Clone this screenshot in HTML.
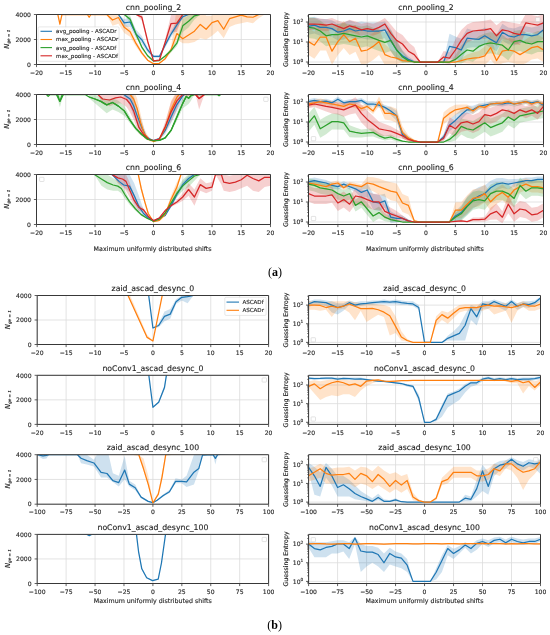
<!DOCTYPE html><html><head><meta charset='utf-8'><style>html,body{margin:0;padding:0;background:#fff;width:550px;height:635px;overflow:hidden}svg{display:block}</style></head><body>
<svg width='550' height='635' viewBox='0 0 550 635' font-family="'DejaVu Sans', 'Liberation Sans', sans-serif" fill='#262626' stroke-linejoin='round'><style>text{stroke:#262626;stroke-width:0.14px}</style>
<rect width='550' height='635' fill='#fff'/>
<defs><clipPath id='c0'><rect x='36.5' y='14.5' width='234' height='50'/></clipPath><clipPath id='c1'><rect x='308.5' y='14.5' width='235' height='50'/></clipPath><clipPath id='c2'><rect x='36.5' y='94.5' width='234' height='50'/></clipPath><clipPath id='c3'><rect x='308.5' y='94.5' width='235' height='50'/></clipPath><clipPath id='c4'><rect x='36.5' y='174.5' width='234' height='50'/></clipPath><clipPath id='c5'><rect x='308.5' y='174.5' width='235' height='50'/></clipPath><clipPath id='c6'><rect x='37.2' y='295.5' width='231.4' height='49'/></clipPath><clipPath id='c7'><rect x='308.6' y='295.5' width='231.9' height='49'/></clipPath><clipPath id='c8'><rect x='37.2' y='375.3' width='231.4' height='49.1'/></clipPath><clipPath id='c9'><rect x='308.6' y='375.3' width='231.9' height='49.1'/></clipPath><clipPath id='c10'><rect x='37.2' y='454.7' width='231.4' height='49.5'/></clipPath><clipPath id='c11'><rect x='308.6' y='454.7' width='231.9' height='49.5'/></clipPath><clipPath id='c12'><rect x='37.2' y='534.4' width='231.4' height='49.1'/></clipPath><clipPath id='c13'><rect x='308.6' y='534.4' width='231.9' height='49.1'/></clipPath></defs>
<line x1='36.5' y1='14.5' x2='36.5' y2='64.5' stroke='#dcdcdc' stroke-width='0.8'/>
<line x1='65.75' y1='14.5' x2='65.75' y2='64.5' stroke='#dcdcdc' stroke-width='0.8'/>
<line x1='95' y1='14.5' x2='95' y2='64.5' stroke='#dcdcdc' stroke-width='0.8'/>
<line x1='124.25' y1='14.5' x2='124.25' y2='64.5' stroke='#dcdcdc' stroke-width='0.8'/>
<line x1='153.5' y1='14.5' x2='153.5' y2='64.5' stroke='#dcdcdc' stroke-width='0.8'/>
<line x1='182.75' y1='14.5' x2='182.75' y2='64.5' stroke='#dcdcdc' stroke-width='0.8'/>
<line x1='212' y1='14.5' x2='212' y2='64.5' stroke='#dcdcdc' stroke-width='0.8'/>
<line x1='241.25' y1='14.5' x2='241.25' y2='64.5' stroke='#dcdcdc' stroke-width='0.8'/>
<line x1='270.5' y1='14.5' x2='270.5' y2='64.5' stroke='#dcdcdc' stroke-width='0.8'/>
<line x1='36.5' y1='64.5' x2='270.5' y2='64.5' stroke='#dcdcdc' stroke-width='0.8'/>
<line x1='36.5' y1='39.5' x2='270.5' y2='39.5' stroke='#dcdcdc' stroke-width='0.8'/>
<line x1='36.5' y1='14.5' x2='270.5' y2='14.5' stroke='#dcdcdc' stroke-width='0.8'/>
<g clip-path='url(#c0)'>
<polygon points='36.5,9.5 42.35,9.5 48.2,9.5 54.05,9.5 59.9,9.5 65.75,9.5 71.6,9.5 77.45,9.5 83.3,9.5 89.15,9.5 95,9.5 100.85,9.5 106.7,9.5 112.55,9.5 118.4,14.5 124.25,19.19 130.1,17 135.95,29.5 141.8,35.95 147.65,47.44 153.5,55.21 159.35,55.21 165.2,42.52 171.05,30.95 176.9,21.19 182.75,14.21 188.6,9.5 194.45,9.5 200.3,9.5 206.15,9.5 212,9.5 217.85,9.5 223.7,9.5 229.55,9.5 235.4,9.5 241.25,9.5 247.1,9.5 252.95,9.5 258.8,9.5 264.65,9.5 270.5,9.5 270.5,9.5 264.65,9.5 258.8,9.5 252.95,9.5 247.1,9.5 241.25,9.5 235.4,9.5 229.55,9.5 223.7,9.5 217.85,9.5 212,9.5 206.15,9.5 200.3,9.5 194.45,9.5 188.6,14.5 182.75,19.21 176.9,28.69 171.05,37.2 165.2,47.52 159.35,57.71 153.5,57.71 147.65,52.44 141.8,43.45 135.95,38.25 130.1,27 124.25,26.69 118.4,14.5 112.55,9.5 106.7,9.5 100.85,9.5 95,9.5 89.15,9.5 83.3,9.5 77.45,9.5 71.6,9.5 65.75,9.5 59.9,9.5 54.05,9.5 48.2,9.5 42.35,9.5 36.5,9.5' fill='#1f77b4' fill-opacity='0.22' stroke='none'/>
<polygon points='36.5,9.5 54.05,9.5 57.85,14.5 59.9,22.25 61.95,14.5 87.39,14.5 89.15,17.25 90.91,14.5 106.7,14.5 112.55,15.02 118.4,12.51 124.25,23.6 130.1,27.92 135.95,40.29 141.8,50.98 147.65,59.19 153.5,63.2 159.35,62.8 165.2,57.67 171.05,47.14 176.9,7 182.75,7 188.6,7 194.45,7 200.3,7 206.15,15.75 212,15.75 217.85,7 223.7,7 229.55,7 235.4,7 241.25,7 247.1,7 252.95,7 258.8,7 264.65,9.5 270.5,9.5 270.5,9.5 264.65,14.5 258.8,18.25 252.95,23.25 247.1,22 241.25,23.25 235.4,24.5 229.55,27 223.7,38.25 217.85,30.75 212,35.75 206.15,39.5 200.3,38.25 194.45,42 188.6,43.25 182.75,43.25 176.9,39.5 171.05,52.14 165.2,59.67 159.35,63.8 153.5,64.2 147.65,61.19 141.8,54.73 135.95,46.54 130.1,36.67 124.25,32.98 118.4,23.76 112.55,25.65 106.7,14.5 90.91,14.5 89.15,17.25 87.39,14.5 61.95,14.5 59.9,26 57.85,14.5 54.05,9.5 36.5,9.5' fill='#ff7f0e' fill-opacity='0.22' stroke='none'/>
<polygon points='36.5,9.5 42.35,9.5 48.2,9.5 54.05,9.5 59.9,9.5 65.75,9.5 71.6,9.5 77.45,9.5 83.3,9.5 89.15,9.5 95,9.5 100.85,9.5 106.7,9.5 112.55,9.5 118.4,9.5 124.25,14.5 130.1,15.57 135.95,31.38 141.8,45.15 147.65,54.51 153.5,60.25 159.35,59.84 165.2,54.71 171.05,48.66 176.9,40.09 182.75,19.6 188.6,15.07 194.45,12.05 200.3,9.5 206.15,9.5 212,9.5 217.85,9.5 223.7,9.5 229.55,9.5 235.4,9.5 241.25,9.5 247.1,9.5 252.95,9.5 258.8,9.5 264.65,9.5 270.5,9.5 270.5,9.5 264.65,9.5 258.8,9.5 252.95,9.5 247.1,9.5 241.25,9.5 235.4,9.5 229.55,9.5 223.7,9.5 217.85,9.5 212,9.5 206.15,9.5 200.3,14.5 194.45,19.55 188.6,27.57 182.75,32.1 176.9,46.34 171.05,52.41 165.2,57.21 159.35,61.34 153.5,61.75 147.65,57.01 141.8,48.9 135.95,36.38 130.1,23.08 124.25,14.5 118.4,9.5 112.55,9.5 106.7,9.5 100.85,9.5 95,9.5 89.15,9.5 83.3,9.5 77.45,9.5 71.6,9.5 65.75,9.5 59.9,9.5 54.05,9.5 48.2,9.5 42.35,9.5 36.5,9.5' fill='#2ca02c' fill-opacity='0.22' stroke='none'/>
<polygon points='36.5,9.5 42.35,9.5 48.2,9.5 54.05,9.5 59.9,9.5 65.75,9.5 71.6,9.5 77.45,9.5 83.3,9.5 89.15,9.5 95,9.5 100.85,9.5 106.7,9.5 112.55,9.5 118.4,9.5 124.25,9.5 130.1,9.5 135.95,9.5 141.8,13.36 147.65,38.71 153.5,60.14 159.35,59.44 165.2,39.19 171.05,14.79 176.9,14.39 182.75,9.5 188.6,9.5 194.45,9.5 200.3,9.5 206.15,9.5 212,9.5 217.85,9.5 223.7,9.5 229.55,9.5 235.4,9.5 241.25,9.5 247.1,9.5 252.95,9.5 258.8,9.5 264.65,9.5 270.5,9.5 270.5,9.5 264.65,9.5 258.8,9.5 252.95,9.5 247.1,9.5 241.25,9.5 235.4,9.5 229.55,9.5 223.7,9.5 217.85,9.5 212,9.5 206.15,9.5 200.3,9.5 194.45,9.5 188.6,9.5 182.75,14.5 176.9,31.89 171.05,32.29 165.2,45.44 159.35,60.94 153.5,61.64 147.65,43.71 141.8,20.86 135.95,14.5 130.1,9.5 124.25,9.5 118.4,9.5 112.55,9.5 106.7,9.5 100.85,9.5 95,9.5 89.15,9.5 83.3,9.5 77.45,9.5 71.6,9.5 65.75,9.5 59.9,9.5 54.05,9.5 48.2,9.5 42.35,9.5 36.5,9.5' fill='#d62728' fill-opacity='0.22' stroke='none'/>
<polyline points='36.5,9.5 42.35,9.5 48.2,9.5 54.05,9.5 59.9,9.5 65.75,9.5 71.6,9.5 77.45,9.5 83.3,9.5 89.15,9.5 95,9.5 100.85,9.5 106.7,9.5 112.55,9.5 118.4,14.5 124.25,22.94 130.1,22 135.95,33.88 141.8,39.7 147.65,49.94 153.5,56.46 159.35,56.46 165.2,45.02 171.05,34.08 176.9,24.94 182.75,16.71 188.6,14.5 194.45,9.5 200.3,9.5 206.15,9.5 212,9.5 217.85,9.5 223.7,9.5 229.55,9.5 235.4,9.5 241.25,9.5 247.1,9.5 252.95,9.5 258.8,9.5 264.65,9.5 270.5,9.5' fill='none' stroke='#1f77b4' stroke-width='1.25' stroke-linejoin='round'/>
<polyline points='36.5,9.5 54.05,9.5 57.85,14.5 59.9,24.12 61.95,14.5 87.39,14.5 89.15,17.25 90.91,14.5 106.7,14.5 112.55,20.03 118.4,17.51 124.25,27.35 130.1,31.68 135.95,43.41 141.8,52.85 147.65,60.19 153.5,63.7 159.35,63.3 165.2,58.67 171.05,49.64 176.9,33.57 182.75,38.8 188.6,35 194.45,31.18 200.3,24.44 206.15,29.26 212,22.54 217.85,20.62 223.7,29.26 229.55,18.71 235.4,16.81 241.25,15.12 247.1,16.81 252.95,17.25 258.8,14.5 264.65,9.5 270.5,9.5' fill='none' stroke='#ff7f0e' stroke-width='1.25' stroke-linejoin='round'/>
<polyline points='36.5,9.5 42.35,9.5 48.2,9.5 54.05,9.5 59.9,9.5 65.75,9.5 71.6,9.5 77.45,9.5 83.3,9.5 89.15,9.5 95,9.5 100.85,9.5 106.7,9.5 112.55,9.5 118.4,9.5 124.25,14.5 130.1,19.33 135.95,33.88 141.8,47.03 147.65,55.76 153.5,61 159.35,60.59 165.2,55.96 171.05,50.54 176.9,43.21 182.75,25.85 188.6,21.32 194.45,15.8 200.3,14.5 206.15,9.5 212,9.5 217.85,9.5 223.7,9.5 229.55,9.5 235.4,9.5 241.25,9.5 247.1,9.5 252.95,9.5 258.8,9.5 264.65,9.5 270.5,9.5' fill='none' stroke='#2ca02c' stroke-width='1.25' stroke-linejoin='round'/>
<polyline points='36.5,9.5 42.35,9.5 48.2,9.5 54.05,9.5 59.9,9.5 65.75,9.5 71.6,9.5 77.45,9.5 83.3,9.5 89.15,9.5 95,9.5 100.85,9.5 106.7,9.5 112.55,9.5 118.4,9.5 124.25,9.5 130.1,9.5 135.95,14.5 141.8,17.11 147.65,41.21 153.5,60.89 159.35,60.19 165.2,42.31 171.05,23.54 176.9,23.14 182.75,14.5 188.6,9.5 194.45,9.5 200.3,9.5 206.15,9.5 212,9.5 217.85,9.5 223.7,9.5 229.55,9.5 235.4,9.5 241.25,9.5 247.1,9.5 252.95,9.5 258.8,9.5 264.65,9.5 270.5,9.5' fill='none' stroke='#d62728' stroke-width='1.25' stroke-linejoin='round'/>
</g>
<rect x='36.5' y='14.5' width='234' height='50' fill='none' stroke='#383838' stroke-width='1.0'/>
<line x1='36.5' y1='64.5' x2='36.5' y2='67.1' stroke='#383838' stroke-width='0.8'/>
<text x='36.5' y='74.7' text-anchor='middle' font-size='6.1'>−20</text>
<line x1='65.75' y1='64.5' x2='65.75' y2='67.1' stroke='#383838' stroke-width='0.8'/>
<text x='65.75' y='74.7' text-anchor='middle' font-size='6.1'>−15</text>
<line x1='95' y1='64.5' x2='95' y2='67.1' stroke='#383838' stroke-width='0.8'/>
<text x='95' y='74.7' text-anchor='middle' font-size='6.1'>−10</text>
<line x1='124.25' y1='64.5' x2='124.25' y2='67.1' stroke='#383838' stroke-width='0.8'/>
<text x='124.25' y='74.7' text-anchor='middle' font-size='6.1'>−5</text>
<line x1='153.5' y1='64.5' x2='153.5' y2='67.1' stroke='#383838' stroke-width='0.8'/>
<text x='153.5' y='74.7' text-anchor='middle' font-size='6.1'>0</text>
<line x1='182.75' y1='64.5' x2='182.75' y2='67.1' stroke='#383838' stroke-width='0.8'/>
<text x='182.75' y='74.7' text-anchor='middle' font-size='6.1'>5</text>
<line x1='212' y1='64.5' x2='212' y2='67.1' stroke='#383838' stroke-width='0.8'/>
<text x='212' y='74.7' text-anchor='middle' font-size='6.1'>10</text>
<line x1='241.25' y1='64.5' x2='241.25' y2='67.1' stroke='#383838' stroke-width='0.8'/>
<text x='241.25' y='74.7' text-anchor='middle' font-size='6.1'>15</text>
<line x1='270.5' y1='64.5' x2='270.5' y2='67.1' stroke='#383838' stroke-width='0.8'/>
<text x='270.5' y='74.7' text-anchor='middle' font-size='6.1'>20</text>
<line x1='33.9' y1='64.5' x2='36.5' y2='64.5' stroke='#383838' stroke-width='0.8'/>
<text x='30.9' y='66.7' text-anchor='end' font-size='6.1'>0</text>
<line x1='33.9' y1='39.5' x2='36.5' y2='39.5' stroke='#383838' stroke-width='0.8'/>
<text x='30.9' y='41.7' text-anchor='end' font-size='6.1'>2000</text>
<line x1='33.9' y1='14.5' x2='36.5' y2='14.5' stroke='#383838' stroke-width='0.8'/>
<text x='30.9' y='16.7' text-anchor='end' font-size='6.1'>4000</text>
<text x='153.5' y='10.1' text-anchor='middle' font-size='7.75'>cnn_pooling_2</text>
<text transform='translate(9.2,39.2) rotate(-90)' text-anchor='middle' font-size='6.9' font-style='italic'>N<tspan dy='1.1' font-size='4.1'>ge = 1</tspan></text>
<line x1='308.5' y1='14.5' x2='308.5' y2='64.5' stroke='#dcdcdc' stroke-width='0.8'/>
<line x1='337.88' y1='14.5' x2='337.88' y2='64.5' stroke='#dcdcdc' stroke-width='0.8'/>
<line x1='367.25' y1='14.5' x2='367.25' y2='64.5' stroke='#dcdcdc' stroke-width='0.8'/>
<line x1='396.62' y1='14.5' x2='396.62' y2='64.5' stroke='#dcdcdc' stroke-width='0.8'/>
<line x1='426' y1='14.5' x2='426' y2='64.5' stroke='#dcdcdc' stroke-width='0.8'/>
<line x1='455.38' y1='14.5' x2='455.38' y2='64.5' stroke='#dcdcdc' stroke-width='0.8'/>
<line x1='484.75' y1='14.5' x2='484.75' y2='64.5' stroke='#dcdcdc' stroke-width='0.8'/>
<line x1='514.12' y1='14.5' x2='514.12' y2='64.5' stroke='#dcdcdc' stroke-width='0.8'/>
<line x1='543.5' y1='14.5' x2='543.5' y2='64.5' stroke='#dcdcdc' stroke-width='0.8'/>
<line x1='308.5' y1='62' x2='543.5' y2='62' stroke='#dcdcdc' stroke-width='0.8'/>
<line x1='308.5' y1='42' x2='543.5' y2='42' stroke='#dcdcdc' stroke-width='0.8'/>
<line x1='308.5' y1='22' x2='543.5' y2='22' stroke='#dcdcdc' stroke-width='0.8'/>
<g clip-path='url(#c1)'>
<polygon points='308.5,18 314.38,16.8 320.25,19 326.12,19 332,20.2 337.88,23.8 343.75,22.6 349.62,20.2 355.5,22.6 361.38,21.4 367.25,22.6 373.12,22.6 379,22.6 384.88,21.4 390.75,29.2 396.62,40.2 402.5,50.2 408.38,56.6 414.25,60.4 420.12,62 426,62 431.88,62 437.75,62 443.62,60.6 449.5,33.8 455.38,36.4 461.25,38.8 467.12,28.4 473,30.4 478.88,31 484.75,27.4 490.62,31 496.5,34.4 502.38,23.8 508.25,27.4 514.12,28.6 520,26.2 525.88,26.2 531.75,27.4 537.62,26.2 543.5,21.4 543.5,38.2 537.62,43 531.75,44.2 525.88,43 520,43 514.12,45.4 508.25,44.2 502.38,40.6 496.5,51.2 490.62,47.8 484.75,44.2 478.88,47.8 473,47.2 467.12,48 461.25,61.2 455.38,58.8 449.5,59 443.62,63.4 437.75,62 431.88,62 426,62 420.12,62 414.25,63.2 408.38,62.2 402.5,61.4 396.62,59.8 390.75,51.6 384.88,38.2 379,39.4 373.12,39.4 367.25,39.4 361.38,38.2 355.5,39.4 349.62,37 343.75,39.4 337.88,40.6 332,37 326.12,35.8 320.25,35.8 314.38,33.6 308.5,34.8' fill='#1f77b4' fill-opacity='0.22' stroke='none'/>
<polygon points='308.5,28.1 314.38,31.7 320.25,23.5 326.12,23.5 332,37.7 337.88,28.1 343.75,21.1 349.62,28.1 355.5,24.7 361.38,37.7 367.25,36.5 373.12,32.9 379,28.1 384.88,44.1 390.75,49.5 396.62,52.2 402.5,58.5 408.38,60 414.25,62 420.12,62 426,62 431.88,62 437.75,62 443.62,62 449.5,62 455.38,62 461.25,58.5 467.12,54.5 473,52.5 478.88,51 484.75,46.5 490.62,35.6 496.5,54.6 502.38,39.2 508.25,38 514.12,39.2 520,44.1 525.88,39.2 531.75,35.6 537.62,34.4 543.5,38 543.5,62 537.62,58.4 531.75,59.6 525.88,63.2 520,65.1 514.12,63.2 508.25,62 502.38,63.2 496.5,66.6 490.62,59.6 484.75,65.1 478.88,64.2 473,63.9 467.12,63.5 461.25,62.7 455.38,62 449.5,62 443.62,62 437.75,62 431.88,62 426,62 420.12,62 414.25,62 408.38,62.4 402.5,62.7 396.62,64.2 390.75,64.5 384.88,65.1 379,55.1 373.12,59.9 367.25,63.5 361.38,64.7 355.5,51.7 349.62,55.1 343.75,48.1 337.88,55.1 332,64.7 326.12,50.5 320.25,50.5 314.38,58.7 308.5,55.1' fill='#ff7f0e' fill-opacity='0.22' stroke='none'/>
<polygon points='308.5,16.9 314.38,17.7 320.25,20.5 326.12,25.3 332,24.1 337.88,24.1 343.75,22.9 349.62,24.1 355.5,25.3 361.38,26.5 367.25,25.3 373.12,27.7 379,29.9 384.88,31.9 390.75,29.9 396.62,41 402.5,51 408.38,58.5 414.25,62 420.12,62 426,62 431.88,62 437.75,62 443.62,62 449.5,62 455.38,55.5 461.25,45.6 467.12,39.5 473,40.7 478.88,35.9 484.75,33.5 490.62,32.3 496.5,33.5 502.38,34.7 508.25,39.5 514.12,31.1 520,29.9 525.88,32.3 531.75,33.5 537.62,31.1 543.5,31.1 543.5,52.1 537.62,52.1 531.75,54.5 525.88,53.3 520,50.9 514.12,52.1 508.25,60.5 502.38,55.7 496.5,54.5 490.62,53.3 484.75,54.5 478.88,56.9 473,61.7 467.12,60.5 461.25,63.6 455.38,63.3 449.5,62 443.62,62 437.75,62 431.88,62 426,62 420.12,62 414.25,62 408.38,62.7 402.5,63 396.62,59 390.75,50.9 384.88,52.9 379,50.9 373.12,48.7 367.25,46.3 361.38,47.5 355.5,46.3 349.62,45.1 343.75,43.9 337.88,45.1 332,45.1 326.12,46.3 320.25,41.5 314.38,38.7 308.5,37.9' fill='#2ca02c' fill-opacity='0.22' stroke='none'/>
<polygon points='308.5,18 314.38,18 320.25,18.4 326.12,19.2 332,18 337.88,20.4 343.75,22.6 349.62,19.8 355.5,21.4 361.38,23.8 367.25,22.6 373.12,23.8 379,21.4 384.88,18 390.75,24.4 396.62,31.4 402.5,35 408.38,42.2 414.25,47.1 420.12,62 426,62 431.88,62 437.75,62 443.62,51 449.5,52.2 455.38,39.5 461.25,29.9 467.12,24.4 473,22 478.88,21.4 484.75,20.8 490.62,19.6 496.5,25.3 502.38,20.8 508.25,22 514.12,22.9 520,24.1 525.88,13.8 531.75,15 537.62,16.2 543.5,13.8 543.5,31.8 537.62,34.2 531.75,33 525.88,31.8 520,45.1 514.12,43.9 508.25,40 502.38,38.8 496.5,46.3 490.62,37.6 484.75,38.8 478.88,39.4 473,40 467.12,42.4 461.25,50.9 455.38,60.5 449.5,64.2 443.62,63 437.75,62 431.88,62 426,62 420.12,62 414.25,62.1 408.38,60.2 402.5,53 396.62,49.4 390.75,42.4 384.88,30 379,33.4 373.12,35.8 367.25,34.6 361.38,35.8 355.5,33.4 349.62,31.8 343.75,34.6 337.88,32.4 332,30 326.12,31.2 320.25,30.4 314.38,30 308.5,30' fill='#d62728' fill-opacity='0.22' stroke='none'/>
<polyline points='308.5,26.4 314.38,25.2 320.25,27.4 326.12,27.4 332,28.6 337.88,32.2 343.75,31 349.62,28.6 355.5,31 361.38,29.8 367.25,31 373.12,31 379,31 384.88,29.8 390.75,40.4 396.62,50 402.5,55.8 408.38,59.4 414.25,61.8 420.12,62 426,62 431.88,62 437.75,62 443.62,62 449.5,46.4 455.38,47.6 461.25,50 467.12,38.2 473,38.8 478.88,39.4 484.75,35.8 490.62,39.4 496.5,42.8 502.38,32.2 508.25,35.8 514.12,37 520,34.6 525.88,34.6 531.75,35.8 537.62,34.6 543.5,29.8' fill='none' stroke='#1f77b4' stroke-width='1.25' stroke-linejoin='round'/>
<polyline points='308.5,41.6 314.38,45.2 320.25,37 326.12,37 332,51.2 337.88,41.6 343.75,34.6 349.62,41.6 355.5,38.2 361.38,51.2 367.25,50 373.12,46.4 379,41.6 384.88,54.6 390.75,57 396.62,58.2 402.5,60.6 408.38,61.2 414.25,62 420.12,62 426,62 431.88,62 437.75,62 443.62,62 449.5,62 455.38,62 461.25,60.6 467.12,59 473,58.2 478.88,57.6 484.75,55.8 490.62,47.6 496.5,60.6 502.38,51.2 508.25,50 514.12,51.2 520,54.6 525.88,51.2 531.75,47.6 537.62,46.4 543.5,50' fill='none' stroke='#ff7f0e' stroke-width='1.25' stroke-linejoin='round'/>
<polyline points='308.5,27.4 314.38,28.2 320.25,31 326.12,35.8 332,34.6 337.88,34.6 343.75,33.4 349.62,34.6 355.5,35.8 361.38,37 367.25,35.8 373.12,38.2 379,40.4 384.88,42.4 390.75,40.4 396.62,50 402.5,57 408.38,60.6 414.25,62 420.12,62 426,62 431.88,62 437.75,62 443.62,62 449.5,62 455.38,59.4 461.25,54.6 467.12,50 473,51.2 478.88,46.4 484.75,44 490.62,42.8 496.5,44 502.38,45.2 508.25,50 514.12,41.6 520,40.4 525.88,42.8 531.75,44 537.62,41.6 543.5,41.6' fill='none' stroke='#2ca02c' stroke-width='1.25' stroke-linejoin='round'/>
<polyline points='308.5,24 314.38,24 320.25,24.4 326.12,25.2 332,24 337.88,26.4 343.75,28.6 349.62,25.8 355.5,27.4 361.38,29.8 367.25,28.6 373.12,29.8 379,27.4 384.88,24 390.75,33.4 396.62,40.4 402.5,44 408.38,51.2 414.25,54.6 420.12,62 426,62 431.88,62 437.75,62 443.62,57 449.5,58.2 455.38,50 461.25,40.4 467.12,33.4 473,31 478.88,30.4 484.75,29.8 490.62,28.6 496.5,35.8 502.38,29.8 508.25,31 514.12,33.4 520,34.6 525.88,22.8 531.75,24 537.62,25.2 543.5,22.8' fill='none' stroke='#d62728' stroke-width='1.25' stroke-linejoin='round'/>
</g>
<rect x='308.5' y='14.5' width='235' height='50' fill='none' stroke='#383838' stroke-width='1.0'/>
<line x1='308.5' y1='64.5' x2='308.5' y2='67.1' stroke='#383838' stroke-width='0.8'/>
<text x='308.5' y='74.7' text-anchor='middle' font-size='6.1'>−20</text>
<line x1='337.88' y1='64.5' x2='337.88' y2='67.1' stroke='#383838' stroke-width='0.8'/>
<text x='337.88' y='74.7' text-anchor='middle' font-size='6.1'>−15</text>
<line x1='367.25' y1='64.5' x2='367.25' y2='67.1' stroke='#383838' stroke-width='0.8'/>
<text x='367.25' y='74.7' text-anchor='middle' font-size='6.1'>−10</text>
<line x1='396.62' y1='64.5' x2='396.62' y2='67.1' stroke='#383838' stroke-width='0.8'/>
<text x='396.62' y='74.7' text-anchor='middle' font-size='6.1'>−5</text>
<line x1='426' y1='64.5' x2='426' y2='67.1' stroke='#383838' stroke-width='0.8'/>
<text x='426' y='74.7' text-anchor='middle' font-size='6.1'>0</text>
<line x1='455.38' y1='64.5' x2='455.38' y2='67.1' stroke='#383838' stroke-width='0.8'/>
<text x='455.38' y='74.7' text-anchor='middle' font-size='6.1'>5</text>
<line x1='484.75' y1='64.5' x2='484.75' y2='67.1' stroke='#383838' stroke-width='0.8'/>
<text x='484.75' y='74.7' text-anchor='middle' font-size='6.1'>10</text>
<line x1='514.12' y1='64.5' x2='514.12' y2='67.1' stroke='#383838' stroke-width='0.8'/>
<text x='514.12' y='74.7' text-anchor='middle' font-size='6.1'>15</text>
<line x1='543.5' y1='64.5' x2='543.5' y2='67.1' stroke='#383838' stroke-width='0.8'/>
<text x='543.5' y='74.7' text-anchor='middle' font-size='6.1'>20</text>
<line x1='305.9' y1='62' x2='308.5' y2='62' stroke='#383838' stroke-width='0.8'/>
<text x='303.2' y='64.2' text-anchor='end' font-size='6.1'>10<tspan dy='-2.6' font-size='4.3'>0</tspan></text>
<line x1='305.9' y1='42' x2='308.5' y2='42' stroke='#383838' stroke-width='0.8'/>
<text x='303.2' y='44.2' text-anchor='end' font-size='6.1'>10<tspan dy='-2.6' font-size='4.3'>1</tspan></text>
<line x1='305.9' y1='22' x2='308.5' y2='22' stroke='#383838' stroke-width='0.8'/>
<text x='303.2' y='24.2' text-anchor='end' font-size='6.1'>10<tspan dy='-2.6' font-size='4.3'>2</tspan></text>
<line x1='307' y1='63.94' x2='308.5' y2='63.94' stroke='#383838' stroke-width='0.6'/>
<line x1='307' y1='62.92' x2='308.5' y2='62.92' stroke='#383838' stroke-width='0.6'/>
<line x1='307' y1='55.98' x2='308.5' y2='55.98' stroke='#383838' stroke-width='0.6'/>
<line x1='307' y1='52.46' x2='308.5' y2='52.46' stroke='#383838' stroke-width='0.6'/>
<line x1='307' y1='49.96' x2='308.5' y2='49.96' stroke='#383838' stroke-width='0.6'/>
<line x1='307' y1='48.02' x2='308.5' y2='48.02' stroke='#383838' stroke-width='0.6'/>
<line x1='307' y1='46.44' x2='308.5' y2='46.44' stroke='#383838' stroke-width='0.6'/>
<line x1='307' y1='45.1' x2='308.5' y2='45.1' stroke='#383838' stroke-width='0.6'/>
<line x1='307' y1='43.94' x2='308.5' y2='43.94' stroke='#383838' stroke-width='0.6'/>
<line x1='307' y1='42.92' x2='308.5' y2='42.92' stroke='#383838' stroke-width='0.6'/>
<line x1='307' y1='35.98' x2='308.5' y2='35.98' stroke='#383838' stroke-width='0.6'/>
<line x1='307' y1='32.46' x2='308.5' y2='32.46' stroke='#383838' stroke-width='0.6'/>
<line x1='307' y1='29.96' x2='308.5' y2='29.96' stroke='#383838' stroke-width='0.6'/>
<line x1='307' y1='28.02' x2='308.5' y2='28.02' stroke='#383838' stroke-width='0.6'/>
<line x1='307' y1='26.44' x2='308.5' y2='26.44' stroke='#383838' stroke-width='0.6'/>
<line x1='307' y1='25.1' x2='308.5' y2='25.1' stroke='#383838' stroke-width='0.6'/>
<line x1='307' y1='23.94' x2='308.5' y2='23.94' stroke='#383838' stroke-width='0.6'/>
<line x1='307' y1='22.92' x2='308.5' y2='22.92' stroke='#383838' stroke-width='0.6'/>
<line x1='307' y1='15.98' x2='308.5' y2='15.98' stroke='#383838' stroke-width='0.6'/>
<text x='426' y='10.1' text-anchor='middle' font-size='7.75'>cnn_pooling_2</text>
<text transform='translate(287.9,39.5) rotate(-90)' text-anchor='middle' font-size='6.25'>Guessing Entropy</text>
<line x1='36.5' y1='94.5' x2='36.5' y2='144.5' stroke='#dcdcdc' stroke-width='0.8'/>
<line x1='65.75' y1='94.5' x2='65.75' y2='144.5' stroke='#dcdcdc' stroke-width='0.8'/>
<line x1='95' y1='94.5' x2='95' y2='144.5' stroke='#dcdcdc' stroke-width='0.8'/>
<line x1='124.25' y1='94.5' x2='124.25' y2='144.5' stroke='#dcdcdc' stroke-width='0.8'/>
<line x1='153.5' y1='94.5' x2='153.5' y2='144.5' stroke='#dcdcdc' stroke-width='0.8'/>
<line x1='182.75' y1='94.5' x2='182.75' y2='144.5' stroke='#dcdcdc' stroke-width='0.8'/>
<line x1='212' y1='94.5' x2='212' y2='144.5' stroke='#dcdcdc' stroke-width='0.8'/>
<line x1='241.25' y1='94.5' x2='241.25' y2='144.5' stroke='#dcdcdc' stroke-width='0.8'/>
<line x1='270.5' y1='94.5' x2='270.5' y2='144.5' stroke='#dcdcdc' stroke-width='0.8'/>
<line x1='36.5' y1='144.5' x2='270.5' y2='144.5' stroke='#dcdcdc' stroke-width='0.8'/>
<line x1='36.5' y1='119.5' x2='270.5' y2='119.5' stroke='#dcdcdc' stroke-width='0.8'/>
<line x1='36.5' y1='94.5' x2='270.5' y2='94.5' stroke='#dcdcdc' stroke-width='0.8'/>
<g clip-path='url(#c2)'>
<polygon points='36.5,89.5 123.67,89.5 130.1,91.5 133.61,95.75 137.12,106.88 141.8,121.19 146.19,134.5 151.16,138.75 153.5,139.75 159.35,137.59 165.2,126.71 171.05,110.66 176.9,98.35 182.75,92.22 184.51,89.5 270.5,89.5 270.5,89.5 184.51,94.5 182.75,99.72 176.9,110.85 171.05,123.16 165.2,134.21 159.35,139.59 153.5,141.25 151.16,140.75 146.19,139.5 141.8,133.69 137.12,124.38 133.61,115.75 130.1,106.5 123.67,94.5 36.5,89.5' fill='#1f77b4' fill-opacity='0.22' stroke='none'/>
<polygon points='36.5,89.5 130.1,89.5 133.61,90.25 137.12,98.5 140.63,114 144.14,128.38 148.82,137.38 153.5,140.8 159.35,138.09 165.2,124.25 171.05,100.78 176.9,90.96 179.24,89.5 270.5,89.5 270.5,89.5 179.24,94.5 176.9,103.46 171.05,118.28 165.2,131.75 159.35,140.09 153.5,142.3 148.82,141.12 144.14,138.38 140.63,131.5 137.12,118.5 133.61,107.75 130.1,94.5 36.5,89.5' fill='#ff7f0e' fill-opacity='0.22' stroke='none'/>
<polygon points='36.5,89.5 97.93,89.5 102.61,94 109.62,93.75 115.48,91.62 120.74,90.75 126.59,92 130.1,95 133.61,102.12 138.88,121.19 143.56,132 148.82,138.5 153.5,140 159.35,138.34 165.2,121.78 171.05,101.99 176.9,92.15 182.75,89.5 195.62,94.5 199.13,98.5 204.4,94.5 270.5,89.5 270.5,89.5 204.4,94.5 199.13,98.5 195.62,94.5 182.75,94.5 176.9,109.65 171.05,121.99 165.2,131.78 159.35,139.84 153.5,141 148.82,140 143.56,137 138.88,133.69 133.61,119.62 130.1,112.5 126.59,107 120.74,103.25 115.48,104.12 109.62,106.25 102.61,104 97.93,94.5 36.5,89.5' fill='#d62728' fill-opacity='0.22' stroke='none'/>
<polygon points='56.39,89.5 59.9,89.5 63.41,89.5 63.41,94.5 59.9,107.25 56.39,94.5' fill='#2ca02c' fill-opacity='0.22' stroke='none'/>
<polygon points='89.15,89.5 95,94.5 100.85,97 106.7,99.5 112.55,98.25 118.4,100.75 124.25,105.75 130.1,117 135.95,126.38 141.8,133.25 147.65,138.75 153.5,140.38 159.35,139.88 165.2,137 171.05,128.88 176.9,113.25 182.75,98.25 186.26,94.5 188.6,89.5 190.94,89.5 194.45,89.5 194.45,94.5 190.94,100.75 188.6,103.88 186.26,105.75 182.75,108.25 176.9,120.75 171.05,132 165.2,138.5 159.35,140.75 153.5,141 147.65,139.75 141.8,135.75 135.95,130.75 130.1,123.25 124.25,115.75 118.4,112 112.55,109.5 106.7,113.25 100.85,108.25 95,103.25 89.15,98.25' fill='#2ca02c' fill-opacity='0.22' stroke='none'/>
<polygon points='195.62,89.5 199.13,89.5 204.4,89.5 204.4,94.5 199.13,109.5 195.62,94.5' fill='#d62728' fill-opacity='0.22' stroke='none'/>
<polyline points='36.5,89.5 123.67,94.5 130.1,99 133.61,105.75 137.12,115.62 141.8,127.44 146.19,137 151.16,139.75 153.5,140.5 159.35,138.59 165.2,130.46 171.05,116.91 176.9,104.6 182.75,95.97 184.51,94.5 270.5,89.5' fill='none' stroke='#1f77b4' stroke-width='1.25' stroke-linejoin='round'/>
<polyline points='36.5,89.5 130.1,94.5 133.61,99 137.12,108.5 140.63,122.75 144.14,133.38 148.82,139.25 153.5,141.55 159.35,139.09 165.2,128 171.05,109.53 176.9,97.21 179.24,94.5 270.5,89.5' fill='none' stroke='#ff7f0e' stroke-width='1.25' stroke-linejoin='round'/>
<polyline points='36.5,89.5 46.44,94.5 48.2,96.38 49.96,94.5 57.56,94.5 59.9,101.38 62.24,94.5 85.06,94.5 89.15,97 95,99 100.85,101.38 106.7,104.88 112.55,102.5 118.4,106.12 124.25,110.88 130.1,120.38 135.95,128.62 141.8,134.5 147.65,139.25 153.5,140.75 159.35,140.31 165.2,137.85 171.05,130.46 176.9,116.91 182.75,103.36 186.26,96.38 188.6,98.25 190.94,95.75 194.45,94.5 217.26,94.5 219.02,95.75 220.78,94.5 270.5,89.5' fill='none' stroke='#2ca02c' stroke-width='1.25' stroke-linejoin='round'/>
<polyline points='36.5,89.5 97.93,94.5 102.61,99 109.62,100 115.48,97.88 120.74,97 126.59,99.5 130.1,103.75 133.61,110.88 138.88,127.44 143.56,134.5 148.82,139.25 153.5,140.5 159.35,139.09 165.2,126.78 171.05,111.99 176.9,100.9 182.75,94.5 195.62,94.5 199.13,98.5 204.4,94.5 270.5,89.5' fill='none' stroke='#d62728' stroke-width='1.25' stroke-linejoin='round'/>
<polyline points='56.39,94.5 59.9,101.38 63.41,94.5' fill='none' stroke='#2ca02c' stroke-width='1.25' stroke-linejoin='round'/>
<polyline points='89.15,97 95,99 100.85,101.38 106.7,104.88 112.55,102.5 118.4,106.12 124.25,110.88 130.1,120.38 135.95,128.62 141.8,134.5 147.65,139.25 153.5,140.75 159.35,140.31 165.2,137.85 171.05,130.46 176.9,116.91 182.75,103.36 186.26,96.38 188.6,98.25 190.94,95.75 194.45,94.5' fill='none' stroke='#2ca02c' stroke-width='1.25' stroke-linejoin='round'/>
<polyline points='195.62,94.5 199.13,98.5 204.4,94.5' fill='none' stroke='#d62728' stroke-width='1.25' stroke-linejoin='round'/>
</g>
<rect x='36.5' y='94.5' width='234' height='50' fill='none' stroke='#383838' stroke-width='1.0'/>
<line x1='36.5' y1='144.5' x2='36.5' y2='147.1' stroke='#383838' stroke-width='0.8'/>
<text x='36.5' y='154.7' text-anchor='middle' font-size='6.1'>−20</text>
<line x1='65.75' y1='144.5' x2='65.75' y2='147.1' stroke='#383838' stroke-width='0.8'/>
<text x='65.75' y='154.7' text-anchor='middle' font-size='6.1'>−15</text>
<line x1='95' y1='144.5' x2='95' y2='147.1' stroke='#383838' stroke-width='0.8'/>
<text x='95' y='154.7' text-anchor='middle' font-size='6.1'>−10</text>
<line x1='124.25' y1='144.5' x2='124.25' y2='147.1' stroke='#383838' stroke-width='0.8'/>
<text x='124.25' y='154.7' text-anchor='middle' font-size='6.1'>−5</text>
<line x1='153.5' y1='144.5' x2='153.5' y2='147.1' stroke='#383838' stroke-width='0.8'/>
<text x='153.5' y='154.7' text-anchor='middle' font-size='6.1'>0</text>
<line x1='182.75' y1='144.5' x2='182.75' y2='147.1' stroke='#383838' stroke-width='0.8'/>
<text x='182.75' y='154.7' text-anchor='middle' font-size='6.1'>5</text>
<line x1='212' y1='144.5' x2='212' y2='147.1' stroke='#383838' stroke-width='0.8'/>
<text x='212' y='154.7' text-anchor='middle' font-size='6.1'>10</text>
<line x1='241.25' y1='144.5' x2='241.25' y2='147.1' stroke='#383838' stroke-width='0.8'/>
<text x='241.25' y='154.7' text-anchor='middle' font-size='6.1'>15</text>
<line x1='270.5' y1='144.5' x2='270.5' y2='147.1' stroke='#383838' stroke-width='0.8'/>
<text x='270.5' y='154.7' text-anchor='middle' font-size='6.1'>20</text>
<line x1='33.9' y1='144.5' x2='36.5' y2='144.5' stroke='#383838' stroke-width='0.8'/>
<text x='30.9' y='146.7' text-anchor='end' font-size='6.1'>0</text>
<line x1='33.9' y1='119.5' x2='36.5' y2='119.5' stroke='#383838' stroke-width='0.8'/>
<text x='30.9' y='121.7' text-anchor='end' font-size='6.1'>2000</text>
<line x1='33.9' y1='94.5' x2='36.5' y2='94.5' stroke='#383838' stroke-width='0.8'/>
<text x='30.9' y='96.7' text-anchor='end' font-size='6.1'>4000</text>
<text x='153.5' y='90.1' text-anchor='middle' font-size='7.75'>cnn_pooling_4</text>
<text transform='translate(9.2,119.2) rotate(-90)' text-anchor='middle' font-size='6.9' font-style='italic'>N<tspan dy='1.1' font-size='4.1'>ge = 1</tspan></text>
<line x1='308.5' y1='94.5' x2='308.5' y2='144.5' stroke='#dcdcdc' stroke-width='0.8'/>
<line x1='337.88' y1='94.5' x2='337.88' y2='144.5' stroke='#dcdcdc' stroke-width='0.8'/>
<line x1='367.25' y1='94.5' x2='367.25' y2='144.5' stroke='#dcdcdc' stroke-width='0.8'/>
<line x1='396.62' y1='94.5' x2='396.62' y2='144.5' stroke='#dcdcdc' stroke-width='0.8'/>
<line x1='426' y1='94.5' x2='426' y2='144.5' stroke='#dcdcdc' stroke-width='0.8'/>
<line x1='455.38' y1='94.5' x2='455.38' y2='144.5' stroke='#dcdcdc' stroke-width='0.8'/>
<line x1='484.75' y1='94.5' x2='484.75' y2='144.5' stroke='#dcdcdc' stroke-width='0.8'/>
<line x1='514.12' y1='94.5' x2='514.12' y2='144.5' stroke='#dcdcdc' stroke-width='0.8'/>
<line x1='543.5' y1='94.5' x2='543.5' y2='144.5' stroke='#dcdcdc' stroke-width='0.8'/>
<line x1='308.5' y1='142' x2='543.5' y2='142' stroke='#dcdcdc' stroke-width='0.8'/>
<line x1='308.5' y1='122' x2='543.5' y2='122' stroke='#dcdcdc' stroke-width='0.8'/>
<line x1='308.5' y1='102' x2='543.5' y2='102' stroke='#dcdcdc' stroke-width='0.8'/>
<g clip-path='url(#c3)'>
<polygon points='308.5,99.2 314.38,98 320.25,99.2 326.12,98.8 332,100.4 337.88,96.8 343.75,100.4 349.62,99.2 355.5,99.2 361.38,98 367.25,101.6 373.12,101.6 379,102.8 384.88,105 390.75,107 396.62,110.8 402.5,130.6 408.38,136.2 414.25,140.4 420.12,142 426,142 431.88,142 437.75,142 443.62,134 449.5,119.2 455.38,114.4 461.25,109.6 467.12,105.8 473,105.8 478.88,103.4 484.75,102.8 490.62,101.6 496.5,101 502.38,101.6 508.25,100.4 514.12,101.6 520,100.4 525.88,99.2 531.75,100.4 537.62,99.2 543.5,102.8 543.5,107.6 537.62,104 531.75,105.2 525.88,104 520,105.2 514.12,106.4 508.25,105.2 502.38,106.4 496.5,105.8 490.62,106.4 484.75,107.6 478.88,109.4 473,113.8 467.12,113.8 461.25,119.6 455.38,126.4 449.5,131.2 443.62,140 437.75,142 431.88,142 426,142 420.12,142 414.25,142 408.38,140.2 402.5,138.6 396.62,120.8 390.75,115 384.88,109.8 379,107.6 373.12,106.4 367.25,106.4 361.38,102.8 355.5,104 349.62,104 343.75,105.2 337.88,101.6 332,105.2 326.12,103.6 320.25,104 314.38,102.8 308.5,104' fill='#1f77b4' fill-opacity='0.22' stroke='none'/>
<polygon points='308.5,101 314.38,99.8 320.25,98.6 326.12,99.8 332,101 337.88,102.2 343.75,103.4 349.62,101 355.5,102.2 361.38,105.6 367.25,103.4 373.12,108 379,96.6 384.88,107.4 390.75,106.4 396.62,108.8 402.5,126.4 408.38,135.2 414.25,139.6 420.12,142 426,142 431.88,142 437.75,142 443.62,112.2 449.5,107.4 455.38,104.8 461.25,104.6 467.12,104.4 473,108 478.88,103.4 484.75,105 490.62,101.6 496.5,101 502.38,100.4 508.25,99.2 514.12,101.6 520,100.4 525.88,99.2 531.75,101.6 537.62,99.6 543.5,101.6 543.5,106.4 537.62,104.4 531.75,106.4 525.88,104 520,105.2 514.12,106.4 508.25,104 502.38,105.2 496.5,105.8 490.62,106.4 484.75,109.8 478.88,109.4 473,114 467.12,110.4 461.25,112.6 455.38,114.8 449.5,119.4 443.62,124.2 437.75,142 431.88,142 426,142 420.12,142 414.25,141.6 408.38,141.2 402.5,138.4 396.62,122.8 390.75,120.4 384.88,119.4 379,106.6 373.12,114 367.25,109.4 361.38,111.6 355.5,108.2 349.62,107 343.75,109.4 337.88,108.2 332,107 326.12,105.8 320.25,104.6 314.38,105.8 308.5,107' fill='#ff7f0e' fill-opacity='0.22' stroke='none'/>
<polygon points='308.5,113.8 314.38,106.8 320.25,119.8 326.12,116.2 332,113.6 337.88,113.6 343.75,115.8 349.62,125.2 355.5,127.4 361.38,129.4 367.25,128.8 373.12,128.4 379,132.8 384.88,135.8 390.75,134.6 396.62,137.4 402.5,140.4 408.38,142 414.25,142 420.12,142 426,142 431.88,142 437.75,142 443.62,142 449.5,136.8 455.38,128.6 461.25,118.4 467.12,119.8 473,121 478.88,117.4 484.75,113.8 490.62,118.6 496.5,116.2 502.38,113.8 508.25,109 514.12,112.4 520,108.8 525.88,107.6 531.75,106.4 537.62,105.2 543.5,104 543.5,118 537.62,119.2 531.75,120.4 525.88,121.6 520,122.8 514.12,128.4 508.25,125 502.38,131.8 496.5,134.2 490.62,136.6 484.75,131.8 478.88,135.4 473,139 467.12,137.8 461.25,134.4 455.38,140.6 449.5,142 443.62,142 437.75,142 431.88,142 426,142 420.12,142 414.25,142 408.38,142 402.5,142 396.62,141.4 390.75,139.4 384.88,140.6 379,138.8 373.12,136.4 367.25,136.8 361.38,137.4 355.5,137.4 349.62,137.2 343.75,129.8 337.88,129.6 332,129.6 326.12,134.2 320.25,137.8 314.38,124.8 308.5,131.8' fill='#2ca02c' fill-opacity='0.22' stroke='none'/>
<polygon points='308.5,102.2 314.38,101 320.25,101.2 326.12,101.4 332,101.4 337.88,102.6 343.75,102.8 349.62,100.4 355.5,97.2 361.38,104.4 367.25,110.4 373.12,116 379,121.8 384.88,124 390.75,126.2 396.62,129.4 402.5,132.8 408.38,137.4 414.25,140.4 420.12,142 426,142 431.88,142 437.75,142 443.62,135.2 449.5,117.2 455.38,120.8 461.25,113.8 467.12,112.6 473,115 478.88,112.6 484.75,106.6 490.62,107.8 496.5,105.4 502.38,102.8 508.25,104 514.12,106.4 520,103.8 525.88,106.2 531.75,103.8 537.62,107.4 543.5,100.4 543.5,112.4 537.62,119.4 531.75,115.8 525.88,118.2 520,115.8 514.12,120.4 508.25,118 502.38,116.8 496.5,121.4 490.62,123.8 484.75,122.6 478.88,130.6 473,133 467.12,130.6 461.25,131.8 455.38,136.8 449.5,133.2 443.62,141.2 437.75,142 431.88,142 426,142 420.12,142 414.25,142 408.38,141.4 402.5,138.8 396.62,137.4 390.75,136.2 384.88,136 379,135.8 373.12,132 367.25,128.4 361.38,122.4 355.5,113.2 349.62,114.4 343.75,116.8 337.88,114.6 332,113.4 326.12,111.4 320.25,109.2 314.38,107 308.5,108.2' fill='#d62728' fill-opacity='0.22' stroke='none'/>
<polyline points='308.5,101.6 314.38,100.4 320.25,101.6 326.12,101.2 332,102.8 337.88,99.2 343.75,102.8 349.62,101.6 355.5,101.6 361.38,100.4 367.25,104 373.12,104 379,105.2 384.88,107.4 390.75,111 396.62,115.8 402.5,134.6 408.38,138.2 414.25,141.2 420.12,142 426,142 431.88,142 437.75,142 443.62,137 449.5,125.2 455.38,120.4 461.25,114.6 467.12,109.8 473,109.8 478.88,106.4 484.75,105.2 490.62,104 496.5,103.4 502.38,104 508.25,102.8 514.12,104 520,102.8 525.88,101.6 531.75,102.8 537.62,101.6 543.5,105.2' fill='none' stroke='#1f77b4' stroke-width='1.25' stroke-linejoin='round'/>
<polyline points='308.5,104 314.38,102.8 320.25,101.6 326.12,102.8 332,104 337.88,105.2 343.75,106.4 349.62,104 355.5,105.2 361.38,108.6 367.25,106.4 373.12,111 379,101.6 384.88,113.4 390.75,113.4 396.62,115.8 402.5,132.4 408.38,138.2 414.25,140.6 420.12,142 426,142 431.88,142 437.75,142 443.62,118.2 449.5,113.4 455.38,109.8 461.25,108.6 467.12,107.4 473,111 478.88,106.4 484.75,107.4 490.62,104 496.5,103.4 502.38,102.8 508.25,101.6 514.12,104 520,102.8 525.88,101.6 531.75,104 537.62,102 543.5,104' fill='none' stroke='#ff7f0e' stroke-width='1.25' stroke-linejoin='round'/>
<polyline points='308.5,122.8 314.38,115.8 320.25,128.8 326.12,125.2 332,121.6 337.88,121.6 343.75,122.8 349.62,131.2 355.5,132.4 361.38,133.4 367.25,132.8 373.12,132.4 379,135.8 384.88,138.2 390.75,137 396.62,139.4 402.5,141.2 408.38,142 414.25,142 420.12,142 426,142 431.88,142 437.75,142 443.62,142 449.5,139.4 455.38,134.6 461.25,126.4 467.12,128.8 473,130 478.88,126.4 484.75,122.8 490.62,127.6 496.5,125.2 502.38,122.8 508.25,117 514.12,120.4 520,115.8 525.88,114.6 531.75,113.4 537.62,112.2 543.5,111' fill='none' stroke='#2ca02c' stroke-width='1.25' stroke-linejoin='round'/>
<polyline points='308.5,105.2 314.38,104 320.25,105.2 326.12,106.4 332,107.4 337.88,108.6 343.75,109.8 349.62,107.4 355.5,105.2 361.38,113.4 367.25,119.4 373.12,124 379,128.8 384.88,130 390.75,131.2 396.62,133.4 402.5,135.8 408.38,139.4 414.25,141.2 420.12,142 426,142 431.88,142 437.75,142 443.62,138.2 449.5,125.2 455.38,128.8 461.25,122.8 467.12,121.6 473,124 478.88,121.6 484.75,114.6 490.62,115.8 496.5,113.4 502.38,109.8 508.25,111 514.12,113.4 520,109.8 525.88,112.2 531.75,109.8 537.62,113.4 543.5,106.4' fill='none' stroke='#d62728' stroke-width='1.25' stroke-linejoin='round'/>
</g>
<rect x='308.5' y='94.5' width='235' height='50' fill='none' stroke='#383838' stroke-width='1.0'/>
<line x1='308.5' y1='144.5' x2='308.5' y2='147.1' stroke='#383838' stroke-width='0.8'/>
<text x='308.5' y='154.7' text-anchor='middle' font-size='6.1'>−20</text>
<line x1='337.88' y1='144.5' x2='337.88' y2='147.1' stroke='#383838' stroke-width='0.8'/>
<text x='337.88' y='154.7' text-anchor='middle' font-size='6.1'>−15</text>
<line x1='367.25' y1='144.5' x2='367.25' y2='147.1' stroke='#383838' stroke-width='0.8'/>
<text x='367.25' y='154.7' text-anchor='middle' font-size='6.1'>−10</text>
<line x1='396.62' y1='144.5' x2='396.62' y2='147.1' stroke='#383838' stroke-width='0.8'/>
<text x='396.62' y='154.7' text-anchor='middle' font-size='6.1'>−5</text>
<line x1='426' y1='144.5' x2='426' y2='147.1' stroke='#383838' stroke-width='0.8'/>
<text x='426' y='154.7' text-anchor='middle' font-size='6.1'>0</text>
<line x1='455.38' y1='144.5' x2='455.38' y2='147.1' stroke='#383838' stroke-width='0.8'/>
<text x='455.38' y='154.7' text-anchor='middle' font-size='6.1'>5</text>
<line x1='484.75' y1='144.5' x2='484.75' y2='147.1' stroke='#383838' stroke-width='0.8'/>
<text x='484.75' y='154.7' text-anchor='middle' font-size='6.1'>10</text>
<line x1='514.12' y1='144.5' x2='514.12' y2='147.1' stroke='#383838' stroke-width='0.8'/>
<text x='514.12' y='154.7' text-anchor='middle' font-size='6.1'>15</text>
<line x1='543.5' y1='144.5' x2='543.5' y2='147.1' stroke='#383838' stroke-width='0.8'/>
<text x='543.5' y='154.7' text-anchor='middle' font-size='6.1'>20</text>
<line x1='305.9' y1='142' x2='308.5' y2='142' stroke='#383838' stroke-width='0.8'/>
<text x='303.2' y='144.2' text-anchor='end' font-size='6.1'>10<tspan dy='-2.6' font-size='4.3'>0</tspan></text>
<line x1='305.9' y1='122' x2='308.5' y2='122' stroke='#383838' stroke-width='0.8'/>
<text x='303.2' y='124.2' text-anchor='end' font-size='6.1'>10<tspan dy='-2.6' font-size='4.3'>1</tspan></text>
<line x1='305.9' y1='102' x2='308.5' y2='102' stroke='#383838' stroke-width='0.8'/>
<text x='303.2' y='104.2' text-anchor='end' font-size='6.1'>10<tspan dy='-2.6' font-size='4.3'>2</tspan></text>
<line x1='307' y1='143.94' x2='308.5' y2='143.94' stroke='#383838' stroke-width='0.6'/>
<line x1='307' y1='142.92' x2='308.5' y2='142.92' stroke='#383838' stroke-width='0.6'/>
<line x1='307' y1='135.98' x2='308.5' y2='135.98' stroke='#383838' stroke-width='0.6'/>
<line x1='307' y1='132.46' x2='308.5' y2='132.46' stroke='#383838' stroke-width='0.6'/>
<line x1='307' y1='129.96' x2='308.5' y2='129.96' stroke='#383838' stroke-width='0.6'/>
<line x1='307' y1='128.02' x2='308.5' y2='128.02' stroke='#383838' stroke-width='0.6'/>
<line x1='307' y1='126.44' x2='308.5' y2='126.44' stroke='#383838' stroke-width='0.6'/>
<line x1='307' y1='125.1' x2='308.5' y2='125.1' stroke='#383838' stroke-width='0.6'/>
<line x1='307' y1='123.94' x2='308.5' y2='123.94' stroke='#383838' stroke-width='0.6'/>
<line x1='307' y1='122.92' x2='308.5' y2='122.92' stroke='#383838' stroke-width='0.6'/>
<line x1='307' y1='115.98' x2='308.5' y2='115.98' stroke='#383838' stroke-width='0.6'/>
<line x1='307' y1='112.46' x2='308.5' y2='112.46' stroke='#383838' stroke-width='0.6'/>
<line x1='307' y1='109.96' x2='308.5' y2='109.96' stroke='#383838' stroke-width='0.6'/>
<line x1='307' y1='108.02' x2='308.5' y2='108.02' stroke='#383838' stroke-width='0.6'/>
<line x1='307' y1='106.44' x2='308.5' y2='106.44' stroke='#383838' stroke-width='0.6'/>
<line x1='307' y1='105.1' x2='308.5' y2='105.1' stroke='#383838' stroke-width='0.6'/>
<line x1='307' y1='103.94' x2='308.5' y2='103.94' stroke='#383838' stroke-width='0.6'/>
<line x1='307' y1='102.92' x2='308.5' y2='102.92' stroke='#383838' stroke-width='0.6'/>
<line x1='307' y1='95.98' x2='308.5' y2='95.98' stroke='#383838' stroke-width='0.6'/>
<text x='426' y='90.1' text-anchor='middle' font-size='7.75'>cnn_pooling_4</text>
<text transform='translate(287.9,119.5) rotate(-90)' text-anchor='middle' font-size='6.25'>Guessing Entropy</text>
<line x1='36.5' y1='174.5' x2='36.5' y2='224.5' stroke='#dcdcdc' stroke-width='0.8'/>
<line x1='65.75' y1='174.5' x2='65.75' y2='224.5' stroke='#dcdcdc' stroke-width='0.8'/>
<line x1='95' y1='174.5' x2='95' y2='224.5' stroke='#dcdcdc' stroke-width='0.8'/>
<line x1='124.25' y1='174.5' x2='124.25' y2='224.5' stroke='#dcdcdc' stroke-width='0.8'/>
<line x1='153.5' y1='174.5' x2='153.5' y2='224.5' stroke='#dcdcdc' stroke-width='0.8'/>
<line x1='182.75' y1='174.5' x2='182.75' y2='224.5' stroke='#dcdcdc' stroke-width='0.8'/>
<line x1='212' y1='174.5' x2='212' y2='224.5' stroke='#dcdcdc' stroke-width='0.8'/>
<line x1='241.25' y1='174.5' x2='241.25' y2='224.5' stroke='#dcdcdc' stroke-width='0.8'/>
<line x1='270.5' y1='174.5' x2='270.5' y2='224.5' stroke='#dcdcdc' stroke-width='0.8'/>
<line x1='36.5' y1='224.5' x2='270.5' y2='224.5' stroke='#dcdcdc' stroke-width='0.8'/>
<line x1='36.5' y1='199.5' x2='270.5' y2='199.5' stroke='#dcdcdc' stroke-width='0.8'/>
<line x1='36.5' y1='174.5' x2='270.5' y2='174.5' stroke='#dcdcdc' stroke-width='0.8'/>
<g clip-path='url(#c4)'>
<polygon points='36.5,169.5 111.97,169.5 118.98,169.5 123.67,169.5 129.51,174.5 134.19,183.25 138.88,195.75 143.56,209.5 148.82,217 153.5,220.75 159.35,217.38 165.2,214.5 171.05,203.25 176.9,192 182.75,181.38 188.6,175.75 194.45,174.5 270.5,169.5 270.5,169.5 194.45,174.5 188.6,180.75 182.75,187.62 176.9,197 171.05,207.62 165.2,216.38 159.35,218.5 153.5,221.62 148.82,219.25 143.56,215.75 138.88,210.75 134.19,203.25 129.51,192 123.67,187 118.98,183.25 111.97,174.5 36.5,169.5' fill='#1f77b4' fill-opacity='0.22' stroke='none'/>
<polygon points='36.5,169.5 138.29,174.5 141.21,185.38 144.73,199.12 148.24,212 153.5,221.25 159.35,219.68 165.2,212.38 171.05,195.75 176.9,182.12 180.99,174.5 270.5,169.5 270.5,169.5 180.99,174.5 176.9,192.12 171.05,203.25 165.2,216.12 159.35,221.18 153.5,222.25 148.24,215 144.73,204.12 141.21,191.62 138.29,174.5 36.5,169.5' fill='#ff7f0e' fill-opacity='0.22' stroke='none'/>
<polygon points='36.5,169.5 94.41,169.5 101.43,169.5 107.28,174.5 113.14,178.25 117.82,180.75 121.33,184.5 124.83,190.75 129.51,199.5 135.37,207 141.21,213.5 147.06,217.5 153.5,220.75 159.35,218.62 165.2,212 171.05,200.75 176.9,189.5 182.75,179.5 188.6,174.5 194.45,169.5 200.3,169.5 270.5,169.5 270.5,169.5 200.3,174.5 194.45,180.75 188.6,187 182.75,190.75 176.9,197 171.05,205.75 165.2,214.25 159.35,219.62 153.5,221.62 147.06,218.88 141.21,215.75 135.37,210.75 129.51,204.5 124.83,198.25 121.33,193.25 117.82,190.75 113.14,190.75 107.28,189.5 101.43,185.75 94.41,174.5 36.5,169.5' fill='#2ca02c' fill-opacity='0.22' stroke='none'/>
<polygon points='36.5,169.5 111.97,169.5 117.82,169.5 122.5,169.5 126,174.5 129.51,182 134.19,194.5 138.88,204.5 143.56,208.25 148.82,216 153.5,220.12 159.35,217.5 165.2,209.5 171.05,203.88 176.9,200.12 182.75,193.25 188.6,183.25 194.45,189.5 200.3,178.25 206.15,183.25 212,182 215.51,174.5 221.36,169.5 223.7,174.5 229.55,175.75 235.4,174.5 241.25,169.5 247.1,169.5 252.95,169.5 258.8,169.5 264.65,169.5 270.5,169.5 270.5,185.75 264.65,187 258.8,192 252.95,190.75 247.1,185.75 241.25,188.25 235.4,190.75 229.55,192 223.7,190.75 221.36,184.5 215.51,174.5 212,190.75 206.15,193.25 200.3,190.75 194.45,205.75 188.6,195.75 182.75,200.75 176.9,203.88 171.05,207 165.2,212 159.35,218.5 153.5,221 148.82,218 143.56,212 138.88,210.75 134.19,205.75 129.51,197 126,190.75 122.5,187 117.82,183.25 111.97,174.5 36.5,169.5' fill='#d62728' fill-opacity='0.22' stroke='none'/>
<polyline points='36.5,169.5 111.97,174.5 118.98,181.38 123.67,185 129.51,186.12 134.19,195.62 138.88,206.38 143.56,213.5 148.82,218.19 153.5,221.25 159.35,217.96 165.2,215.5 171.05,205.62 176.9,194.5 182.75,184.62 188.6,178.5 194.45,174.5 270.5,169.5' fill='none' stroke='#1f77b4' stroke-width='1.25' stroke-linejoin='round'/>
<polyline points='36.5,169.5 138.29,174.5 141.21,188.5 144.73,201.62 148.24,213.5 153.5,221.75 159.35,220.43 165.2,214.25 171.05,199.5 176.9,187.12 180.99,174.5 270.5,169.5' fill='none' stroke='#ff7f0e' stroke-width='1.25' stroke-linejoin='round'/>
<polyline points='36.5,169.5 94.41,174.5 101.43,179 107.28,182.62 113.14,185 117.82,186.12 121.33,188.5 124.83,194.5 129.51,201.62 135.37,208.75 141.21,214.62 147.06,218.19 153.5,221.25 159.35,219.19 165.2,213 171.05,203.12 176.9,193.25 182.75,185.88 188.6,180.88 194.45,176 200.3,174.5 270.5,169.5' fill='none' stroke='#2ca02c' stroke-width='1.25' stroke-linejoin='round'/>
<polyline points='36.5,169.5 111.97,174.5 117.82,177.88 122.5,179 126,181.38 129.51,189.62 134.19,200.38 138.88,207.5 143.56,209.88 148.82,217 153.5,220.56 159.35,217.96 165.2,210.56 171.05,205.62 176.9,201.91 182.75,197 188.6,189.5 194.45,197 200.3,184.62 206.15,188.38 212,187.12 215.51,174.5 221.36,174.5 223.7,182.12 229.55,183.38 235.4,182.12 241.25,179.75 247.1,175.25 252.95,178.5 258.8,180.88 264.65,177.25 270.5,177.25' fill='none' stroke='#d62728' stroke-width='1.25' stroke-linejoin='round'/>
</g>
<rect x='36.5' y='174.5' width='234' height='50' fill='none' stroke='#383838' stroke-width='1.0'/>
<line x1='36.5' y1='224.5' x2='36.5' y2='227.1' stroke='#383838' stroke-width='0.8'/>
<text x='36.5' y='234.7' text-anchor='middle' font-size='6.1'>−20</text>
<line x1='65.75' y1='224.5' x2='65.75' y2='227.1' stroke='#383838' stroke-width='0.8'/>
<text x='65.75' y='234.7' text-anchor='middle' font-size='6.1'>−15</text>
<line x1='95' y1='224.5' x2='95' y2='227.1' stroke='#383838' stroke-width='0.8'/>
<text x='95' y='234.7' text-anchor='middle' font-size='6.1'>−10</text>
<line x1='124.25' y1='224.5' x2='124.25' y2='227.1' stroke='#383838' stroke-width='0.8'/>
<text x='124.25' y='234.7' text-anchor='middle' font-size='6.1'>−5</text>
<line x1='153.5' y1='224.5' x2='153.5' y2='227.1' stroke='#383838' stroke-width='0.8'/>
<text x='153.5' y='234.7' text-anchor='middle' font-size='6.1'>0</text>
<line x1='182.75' y1='224.5' x2='182.75' y2='227.1' stroke='#383838' stroke-width='0.8'/>
<text x='182.75' y='234.7' text-anchor='middle' font-size='6.1'>5</text>
<line x1='212' y1='224.5' x2='212' y2='227.1' stroke='#383838' stroke-width='0.8'/>
<text x='212' y='234.7' text-anchor='middle' font-size='6.1'>10</text>
<line x1='241.25' y1='224.5' x2='241.25' y2='227.1' stroke='#383838' stroke-width='0.8'/>
<text x='241.25' y='234.7' text-anchor='middle' font-size='6.1'>15</text>
<line x1='270.5' y1='224.5' x2='270.5' y2='227.1' stroke='#383838' stroke-width='0.8'/>
<text x='270.5' y='234.7' text-anchor='middle' font-size='6.1'>20</text>
<line x1='33.9' y1='224.5' x2='36.5' y2='224.5' stroke='#383838' stroke-width='0.8'/>
<text x='30.9' y='226.7' text-anchor='end' font-size='6.1'>0</text>
<line x1='33.9' y1='199.5' x2='36.5' y2='199.5' stroke='#383838' stroke-width='0.8'/>
<text x='30.9' y='201.7' text-anchor='end' font-size='6.1'>2000</text>
<line x1='33.9' y1='174.5' x2='36.5' y2='174.5' stroke='#383838' stroke-width='0.8'/>
<text x='30.9' y='176.7' text-anchor='end' font-size='6.1'>4000</text>
<text x='153.5' y='170.1' text-anchor='middle' font-size='7.75'>cnn_pooling_6</text>
<text transform='translate(9.2,199.2) rotate(-90)' text-anchor='middle' font-size='6.9' font-style='italic'>N<tspan dy='1.1' font-size='4.1'>ge = 1</tspan></text>
<line x1='308.5' y1='174.5' x2='308.5' y2='224.5' stroke='#dcdcdc' stroke-width='0.8'/>
<line x1='337.88' y1='174.5' x2='337.88' y2='224.5' stroke='#dcdcdc' stroke-width='0.8'/>
<line x1='367.25' y1='174.5' x2='367.25' y2='224.5' stroke='#dcdcdc' stroke-width='0.8'/>
<line x1='396.62' y1='174.5' x2='396.62' y2='224.5' stroke='#dcdcdc' stroke-width='0.8'/>
<line x1='426' y1='174.5' x2='426' y2='224.5' stroke='#dcdcdc' stroke-width='0.8'/>
<line x1='455.38' y1='174.5' x2='455.38' y2='224.5' stroke='#dcdcdc' stroke-width='0.8'/>
<line x1='484.75' y1='174.5' x2='484.75' y2='224.5' stroke='#dcdcdc' stroke-width='0.8'/>
<line x1='514.12' y1='174.5' x2='514.12' y2='224.5' stroke='#dcdcdc' stroke-width='0.8'/>
<line x1='543.5' y1='174.5' x2='543.5' y2='224.5' stroke='#dcdcdc' stroke-width='0.8'/>
<line x1='308.5' y1='222' x2='543.5' y2='222' stroke='#dcdcdc' stroke-width='0.8'/>
<line x1='308.5' y1='202' x2='543.5' y2='202' stroke='#dcdcdc' stroke-width='0.8'/>
<line x1='308.5' y1='182' x2='543.5' y2='182' stroke='#dcdcdc' stroke-width='0.8'/>
<g clip-path='url(#c5)'>
<polygon points='308.5,178.8 314.38,177.6 320.25,178.8 326.12,180 332,182.4 337.88,183.6 343.75,181.2 349.62,183.6 355.5,185.8 361.38,186.4 367.25,183 373.12,193.8 379,195 384.88,193.8 390.75,211.2 396.62,214.4 402.5,215.4 408.38,219.6 414.25,222 420.12,222 426,222 431.88,222 437.75,222 443.62,222 449.5,222 455.38,211 461.25,205.6 467.12,196.4 473,190.6 478.88,187 484.75,185.6 490.62,180.8 496.5,178.2 502.38,178 508.25,179.2 514.12,179 520,178.8 525.88,177.6 531.75,177.6 537.62,176.4 543.5,176.4 543.5,182.4 537.62,182.4 531.75,183.6 525.88,183.6 520,184.8 514.12,187 508.25,189.2 502.38,188 496.5,190.2 490.62,194.8 484.75,201.6 478.88,205 473,208.6 467.12,214.4 461.25,219.6 455.38,221 449.5,222 443.62,222 437.75,222 431.88,222 426,222 420.12,222 414.25,222 408.38,222 402.5,221.4 396.62,222.4 390.75,223.2 384.88,207.8 379,211 373.12,209.8 367.25,197 361.38,198.4 355.5,191.8 349.62,189.6 343.75,187.2 337.88,189.6 332,188.4 326.12,186 320.25,184.8 314.38,183.6 308.5,184.8' fill='#1f77b4' fill-opacity='0.22' stroke='none'/>
<polygon points='308.5,180.6 314.38,181.8 320.25,183 326.12,184.2 332,181.8 337.88,180.6 343.75,185.4 349.62,181.8 355.5,183 361.38,184.2 367.25,177 373.12,177.2 379,178.6 384.88,180.8 390.75,182.2 396.62,183.4 402.5,194 408.38,196.4 414.25,219.6 420.12,222 426,222 431.88,222 437.75,222 443.62,222 449.5,222 455.38,202.2 461.25,202.2 467.12,195.2 473,189.4 478.88,188.2 484.75,184.6 490.62,192.8 496.5,188 502.38,184.4 508.25,189.2 514.12,183 520,180.6 525.88,178.2 531.75,180.6 537.62,180.6 543.5,181.8 543.5,193.8 537.62,192.6 531.75,192.6 525.88,190.2 520,192.6 514.12,197 508.25,205.2 502.38,200.4 496.5,204 490.62,210.8 484.75,202.6 478.88,206.2 473,207.4 467.12,213.2 461.25,218.2 455.38,218.2 449.5,222 443.62,222 437.75,222 431.88,222 426,222 420.12,222 414.25,222 408.38,214.4 402.5,212 396.62,201.4 390.75,200.2 384.88,196.8 379,194.6 373.12,191.2 367.25,189 361.38,189 355.5,187.8 349.62,186.6 343.75,190.2 337.88,185.4 332,186.6 326.12,189 320.25,187.8 314.38,186.6 308.5,185.4' fill='#ff7f0e' fill-opacity='0.22' stroke='none'/>
<polygon points='308.5,178.2 314.38,179.4 320.25,181.8 326.12,182.8 332,184 337.88,187.6 343.75,190 349.62,187.6 355.5,199.4 361.38,195.8 367.25,203 373.12,210 379,206.6 384.88,213.2 390.75,217.2 396.62,219.6 402.5,222 408.38,222 414.25,222 420.12,222 426,222 431.88,222 437.75,222 443.62,222 449.5,222 455.38,213.2 461.25,206.8 467.12,197.6 473,191.8 478.88,190.6 484.75,191.8 490.62,184.6 496.5,182.2 502.38,182.2 508.25,184.6 514.12,189.4 520,177.4 525.88,183.2 531.75,179.8 537.62,179.8 543.5,180.8 543.5,196.8 537.62,195.8 531.75,195.8 525.88,199.2 520,193.4 514.12,207.4 508.25,202.6 502.38,200.2 496.5,200.2 490.62,202.6 484.75,209.8 478.88,208.6 473,209.8 467.12,215.6 461.25,220.8 455.38,221.2 449.5,222 443.62,222 437.75,222 431.88,222 426,222 420.12,222 414.25,222 408.38,222 402.5,222 396.62,222 390.75,222 384.88,221.2 379,218.6 373.12,222 367.25,215 361.38,207.8 355.5,211.4 349.62,199.6 343.75,202 337.88,199.6 332,196 326.12,194.8 320.25,193.8 314.38,191.4 308.5,190.2' fill='#2ca02c' fill-opacity='0.22' stroke='none'/>
<polygon points='308.5,185.6 314.38,188 320.25,188 326.12,188 332,186.8 337.88,195 343.75,191.6 349.62,196.2 355.5,188 361.38,189.2 367.25,191.6 373.12,193.8 379,193.8 384.88,204.4 390.75,207.8 396.62,211 402.5,215.4 408.38,219.6 414.25,222 420.12,222 426,222 431.88,222 437.75,222 443.62,222 449.5,222 455.38,220.8 461.25,219.6 467.12,221.2 473,217.6 478.88,217.6 484.75,216.8 490.62,207.8 496.5,203.4 502.38,211.2 508.25,195.2 514.12,205.8 520,201 525.88,202.2 531.75,207.8 537.62,206.8 543.5,203.2 543.5,217.2 537.62,220.8 531.75,221.8 525.88,218.2 520,217 514.12,221.8 508.25,213.2 502.38,223.2 496.5,219.4 490.62,219.8 484.75,221.6 478.88,221.6 473,221.6 467.12,222 461.25,222 455.38,222 449.5,222 443.62,222 437.75,222 431.88,222 426,222 420.12,222 414.25,222 408.38,222 402.5,221.4 396.62,221 390.75,219.8 384.88,218.4 379,209.8 373.12,209.8 367.25,207.6 361.38,205.2 355.5,204 349.62,212.2 343.75,207.6 337.88,211 332,202.8 326.12,204 320.25,204 314.38,204 308.5,201.6' fill='#d62728' fill-opacity='0.22' stroke='none'/>
<polyline points='308.5,181.8 314.38,180.6 320.25,181.8 326.12,183 332,185.4 337.88,186.6 343.75,184.2 349.62,186.6 355.5,188.8 361.38,192.4 367.25,190 373.12,201.8 379,203 384.88,200.8 390.75,217.2 396.62,218.4 402.5,218.4 408.38,220.8 414.25,222 420.12,222 426,222 431.88,222 437.75,222 443.62,222 449.5,222 455.38,216 461.25,212.6 467.12,205.4 473,199.6 478.88,196 484.75,193.6 490.62,187.8 496.5,184.2 502.38,183 508.25,184.2 514.12,183 520,181.8 525.88,180.6 531.75,180.6 537.62,179.4 543.5,179.4' fill='none' stroke='#1f77b4' stroke-width='1.25' stroke-linejoin='round'/>
<polyline points='308.5,183 314.38,184.2 320.25,185.4 326.12,186.6 332,184.2 337.88,183 343.75,187.8 349.62,184.2 355.5,185.4 361.38,186.6 367.25,183 373.12,184.2 379,186.6 384.88,188.8 390.75,191.2 396.62,192.4 402.5,203 408.38,205.4 414.25,220.8 420.12,222 426,222 431.88,222 437.75,222 443.62,222 449.5,222 455.38,210.2 461.25,210.2 467.12,204.2 473,198.4 478.88,197.2 484.75,193.6 490.62,201.8 496.5,196 502.38,192.4 508.25,197.2 514.12,190 520,186.6 525.88,184.2 531.75,186.6 537.62,186.6 543.5,187.8' fill='none' stroke='#ff7f0e' stroke-width='1.25' stroke-linejoin='round'/>
<polyline points='308.5,184.2 314.38,185.4 320.25,187.8 326.12,188.8 332,190 337.88,193.6 343.75,196 349.62,193.6 355.5,205.4 361.38,201.8 367.25,209 373.12,216 379,212.6 384.88,217.2 390.75,219.6 396.62,220.8 402.5,222 408.38,222 414.25,222 420.12,222 426,222 431.88,222 437.75,222 443.62,222 449.5,222 455.38,217.2 461.25,213.8 467.12,206.6 473,200.8 478.88,199.6 484.75,200.8 490.62,193.6 496.5,191.2 502.38,191.2 508.25,193.6 514.12,198.4 520,185.4 525.88,191.2 531.75,187.8 537.62,187.8 543.5,188.8' fill='none' stroke='#2ca02c' stroke-width='1.25' stroke-linejoin='round'/>
<polyline points='308.5,193.6 314.38,196 320.25,196 326.12,196 332,194.8 337.88,203 343.75,199.6 349.62,204.2 355.5,196 361.38,197.2 367.25,199.6 373.12,201.8 379,201.8 384.88,211.4 390.75,213.8 396.62,216 402.5,218.4 408.38,220.8 414.25,222 420.12,222 426,222 431.88,222 437.75,222 443.62,222 449.5,222 455.38,221.4 461.25,220.8 467.12,221.6 473,219.6 478.88,219.6 484.75,219.2 490.62,213.8 496.5,211.4 502.38,217.2 508.25,204.2 514.12,213.8 520,209 525.88,210.2 531.75,214.8 537.62,213.8 543.5,210.2' fill='none' stroke='#d62728' stroke-width='1.25' stroke-linejoin='round'/>
</g>
<rect x='308.5' y='174.5' width='235' height='50' fill='none' stroke='#383838' stroke-width='1.0'/>
<line x1='308.5' y1='224.5' x2='308.5' y2='227.1' stroke='#383838' stroke-width='0.8'/>
<text x='308.5' y='234.7' text-anchor='middle' font-size='6.1'>−20</text>
<line x1='337.88' y1='224.5' x2='337.88' y2='227.1' stroke='#383838' stroke-width='0.8'/>
<text x='337.88' y='234.7' text-anchor='middle' font-size='6.1'>−15</text>
<line x1='367.25' y1='224.5' x2='367.25' y2='227.1' stroke='#383838' stroke-width='0.8'/>
<text x='367.25' y='234.7' text-anchor='middle' font-size='6.1'>−10</text>
<line x1='396.62' y1='224.5' x2='396.62' y2='227.1' stroke='#383838' stroke-width='0.8'/>
<text x='396.62' y='234.7' text-anchor='middle' font-size='6.1'>−5</text>
<line x1='426' y1='224.5' x2='426' y2='227.1' stroke='#383838' stroke-width='0.8'/>
<text x='426' y='234.7' text-anchor='middle' font-size='6.1'>0</text>
<line x1='455.38' y1='224.5' x2='455.38' y2='227.1' stroke='#383838' stroke-width='0.8'/>
<text x='455.38' y='234.7' text-anchor='middle' font-size='6.1'>5</text>
<line x1='484.75' y1='224.5' x2='484.75' y2='227.1' stroke='#383838' stroke-width='0.8'/>
<text x='484.75' y='234.7' text-anchor='middle' font-size='6.1'>10</text>
<line x1='514.12' y1='224.5' x2='514.12' y2='227.1' stroke='#383838' stroke-width='0.8'/>
<text x='514.12' y='234.7' text-anchor='middle' font-size='6.1'>15</text>
<line x1='543.5' y1='224.5' x2='543.5' y2='227.1' stroke='#383838' stroke-width='0.8'/>
<text x='543.5' y='234.7' text-anchor='middle' font-size='6.1'>20</text>
<line x1='305.9' y1='222' x2='308.5' y2='222' stroke='#383838' stroke-width='0.8'/>
<text x='303.2' y='224.2' text-anchor='end' font-size='6.1'>10<tspan dy='-2.6' font-size='4.3'>0</tspan></text>
<line x1='305.9' y1='202' x2='308.5' y2='202' stroke='#383838' stroke-width='0.8'/>
<text x='303.2' y='204.2' text-anchor='end' font-size='6.1'>10<tspan dy='-2.6' font-size='4.3'>1</tspan></text>
<line x1='305.9' y1='182' x2='308.5' y2='182' stroke='#383838' stroke-width='0.8'/>
<text x='303.2' y='184.2' text-anchor='end' font-size='6.1'>10<tspan dy='-2.6' font-size='4.3'>2</tspan></text>
<line x1='307' y1='223.94' x2='308.5' y2='223.94' stroke='#383838' stroke-width='0.6'/>
<line x1='307' y1='222.92' x2='308.5' y2='222.92' stroke='#383838' stroke-width='0.6'/>
<line x1='307' y1='215.98' x2='308.5' y2='215.98' stroke='#383838' stroke-width='0.6'/>
<line x1='307' y1='212.46' x2='308.5' y2='212.46' stroke='#383838' stroke-width='0.6'/>
<line x1='307' y1='209.96' x2='308.5' y2='209.96' stroke='#383838' stroke-width='0.6'/>
<line x1='307' y1='208.02' x2='308.5' y2='208.02' stroke='#383838' stroke-width='0.6'/>
<line x1='307' y1='206.44' x2='308.5' y2='206.44' stroke='#383838' stroke-width='0.6'/>
<line x1='307' y1='205.1' x2='308.5' y2='205.1' stroke='#383838' stroke-width='0.6'/>
<line x1='307' y1='203.94' x2='308.5' y2='203.94' stroke='#383838' stroke-width='0.6'/>
<line x1='307' y1='202.92' x2='308.5' y2='202.92' stroke='#383838' stroke-width='0.6'/>
<line x1='307' y1='195.98' x2='308.5' y2='195.98' stroke='#383838' stroke-width='0.6'/>
<line x1='307' y1='192.46' x2='308.5' y2='192.46' stroke='#383838' stroke-width='0.6'/>
<line x1='307' y1='189.96' x2='308.5' y2='189.96' stroke='#383838' stroke-width='0.6'/>
<line x1='307' y1='188.02' x2='308.5' y2='188.02' stroke='#383838' stroke-width='0.6'/>
<line x1='307' y1='186.44' x2='308.5' y2='186.44' stroke='#383838' stroke-width='0.6'/>
<line x1='307' y1='185.1' x2='308.5' y2='185.1' stroke='#383838' stroke-width='0.6'/>
<line x1='307' y1='183.94' x2='308.5' y2='183.94' stroke='#383838' stroke-width='0.6'/>
<line x1='307' y1='182.92' x2='308.5' y2='182.92' stroke='#383838' stroke-width='0.6'/>
<line x1='307' y1='175.98' x2='308.5' y2='175.98' stroke='#383838' stroke-width='0.6'/>
<text x='426' y='170.1' text-anchor='middle' font-size='7.75'>cnn_pooling_6</text>
<text transform='translate(287.9,199.5) rotate(-90)' text-anchor='middle' font-size='6.25'>Guessing Entropy</text>
<line x1='37.2' y1='295.5' x2='37.2' y2='344.5' stroke='#dcdcdc' stroke-width='0.8'/>
<line x1='66.12' y1='295.5' x2='66.12' y2='344.5' stroke='#dcdcdc' stroke-width='0.8'/>
<line x1='95.05' y1='295.5' x2='95.05' y2='344.5' stroke='#dcdcdc' stroke-width='0.8'/>
<line x1='123.98' y1='295.5' x2='123.98' y2='344.5' stroke='#dcdcdc' stroke-width='0.8'/>
<line x1='152.9' y1='295.5' x2='152.9' y2='344.5' stroke='#dcdcdc' stroke-width='0.8'/>
<line x1='181.83' y1='295.5' x2='181.83' y2='344.5' stroke='#dcdcdc' stroke-width='0.8'/>
<line x1='210.75' y1='295.5' x2='210.75' y2='344.5' stroke='#dcdcdc' stroke-width='0.8'/>
<line x1='239.68' y1='295.5' x2='239.68' y2='344.5' stroke='#dcdcdc' stroke-width='0.8'/>
<line x1='268.6' y1='295.5' x2='268.6' y2='344.5' stroke='#dcdcdc' stroke-width='0.8'/>
<line x1='37.2' y1='344.5' x2='268.6' y2='344.5' stroke='#dcdcdc' stroke-width='0.8'/>
<line x1='37.2' y1='320' x2='268.6' y2='320' stroke='#dcdcdc' stroke-width='0.8'/>
<line x1='37.2' y1='295.5' x2='268.6' y2='295.5' stroke='#dcdcdc' stroke-width='0.8'/>
<g clip-path='url(#c6)'>
<polygon points='37.2,290.6 147.12,283.25 152.9,327.35 158.69,323.68 164.47,311.43 170.25,308.98 176.04,299.18 181.83,295.5 187.61,290.6 193.4,290.6 268.6,290.6 268.6,290.6 193.4,295.5 187.61,303.22 181.83,300.4 176.04,304.07 170.25,318.77 164.47,321.23 158.69,327.35 152.9,328.57 147.12,283.25 37.2,290.6' fill='#1f77b4' fill-opacity='0.22' stroke='none'/>
<polygon points='37.2,290.6 128.02,290.6 147.12,334.7 152.9,341.01 158.69,312.77 164.47,284.48 268.6,284.48 268.6,284.48 164.47,284.48 158.69,312.77 152.9,341.01 147.12,337.39 128.02,295.5 37.2,290.6' fill='#ff7f0e' fill-opacity='0.22' stroke='none'/>
<polyline points='37.2,290.6 147.12,283.25 152.9,327.96 158.69,325.51 164.47,316.32 170.25,314.12 176.04,301.75 181.83,297.34 187.61,296.73 193.4,295.5 268.6,290.6' fill='none' stroke='#1f77b4' stroke-width='1.25' stroke-linejoin='round'/>
<polyline points='37.2,290.6 128.02,295.5 147.12,337.39 152.9,341.01 158.69,312.77 164.47,284.48 268.6,284.48' fill='none' stroke='#ff7f0e' stroke-width='1.25' stroke-linejoin='round'/>
</g>
<rect x='37.2' y='295.5' width='231.4' height='49' fill='none' stroke='#383838' stroke-width='1.0'/>
<line x1='37.2' y1='344.5' x2='37.2' y2='347.1' stroke='#383838' stroke-width='0.8'/>
<text x='37.2' y='354.7' text-anchor='middle' font-size='6.1'>−20</text>
<line x1='66.12' y1='344.5' x2='66.12' y2='347.1' stroke='#383838' stroke-width='0.8'/>
<text x='66.12' y='354.7' text-anchor='middle' font-size='6.1'>−15</text>
<line x1='95.05' y1='344.5' x2='95.05' y2='347.1' stroke='#383838' stroke-width='0.8'/>
<text x='95.05' y='354.7' text-anchor='middle' font-size='6.1'>−10</text>
<line x1='123.98' y1='344.5' x2='123.98' y2='347.1' stroke='#383838' stroke-width='0.8'/>
<text x='123.98' y='354.7' text-anchor='middle' font-size='6.1'>−5</text>
<line x1='152.9' y1='344.5' x2='152.9' y2='347.1' stroke='#383838' stroke-width='0.8'/>
<text x='152.9' y='354.7' text-anchor='middle' font-size='6.1'>0</text>
<line x1='181.83' y1='344.5' x2='181.83' y2='347.1' stroke='#383838' stroke-width='0.8'/>
<text x='181.83' y='354.7' text-anchor='middle' font-size='6.1'>5</text>
<line x1='210.75' y1='344.5' x2='210.75' y2='347.1' stroke='#383838' stroke-width='0.8'/>
<text x='210.75' y='354.7' text-anchor='middle' font-size='6.1'>10</text>
<line x1='239.68' y1='344.5' x2='239.68' y2='347.1' stroke='#383838' stroke-width='0.8'/>
<text x='239.68' y='354.7' text-anchor='middle' font-size='6.1'>15</text>
<line x1='268.6' y1='344.5' x2='268.6' y2='347.1' stroke='#383838' stroke-width='0.8'/>
<text x='268.6' y='354.7' text-anchor='middle' font-size='6.1'>20</text>
<line x1='34.6' y1='344.5' x2='37.2' y2='344.5' stroke='#383838' stroke-width='0.8'/>
<text x='31.6' y='346.7' text-anchor='end' font-size='6.1'>0</text>
<line x1='34.6' y1='320' x2='37.2' y2='320' stroke='#383838' stroke-width='0.8'/>
<text x='31.6' y='322.2' text-anchor='end' font-size='6.1'>2000</text>
<line x1='34.6' y1='295.5' x2='37.2' y2='295.5' stroke='#383838' stroke-width='0.8'/>
<text x='31.6' y='297.7' text-anchor='end' font-size='6.1'>4000</text>
<text x='152.9' y='291.1' text-anchor='middle' font-size='7.75'>zaid_ascad_desync_0</text>
<text transform='translate(9.9,319.7) rotate(-90)' text-anchor='middle' font-size='6.9' font-style='italic'>N<tspan dy='1.1' font-size='4.1'>ge = 1</tspan></text>
<line x1='308.6' y1='295.5' x2='308.6' y2='344.5' stroke='#dcdcdc' stroke-width='0.8'/>
<line x1='337.59' y1='295.5' x2='337.59' y2='344.5' stroke='#dcdcdc' stroke-width='0.8'/>
<line x1='366.58' y1='295.5' x2='366.58' y2='344.5' stroke='#dcdcdc' stroke-width='0.8'/>
<line x1='395.56' y1='295.5' x2='395.56' y2='344.5' stroke='#dcdcdc' stroke-width='0.8'/>
<line x1='424.55' y1='295.5' x2='424.55' y2='344.5' stroke='#dcdcdc' stroke-width='0.8'/>
<line x1='453.54' y1='295.5' x2='453.54' y2='344.5' stroke='#dcdcdc' stroke-width='0.8'/>
<line x1='482.52' y1='295.5' x2='482.52' y2='344.5' stroke='#dcdcdc' stroke-width='0.8'/>
<line x1='511.51' y1='295.5' x2='511.51' y2='344.5' stroke='#dcdcdc' stroke-width='0.8'/>
<line x1='540.5' y1='295.5' x2='540.5' y2='344.5' stroke='#dcdcdc' stroke-width='0.8'/>
<line x1='308.6' y1='342.4' x2='540.5' y2='342.4' stroke='#dcdcdc' stroke-width='0.8'/>
<line x1='308.6' y1='323.75' x2='540.5' y2='323.75' stroke='#dcdcdc' stroke-width='0.8'/>
<line x1='308.6' y1='305.1' x2='540.5' y2='305.1' stroke='#dcdcdc' stroke-width='0.8'/>
<g clip-path='url(#c7)'>
<polygon points='308.6,301.37 314.4,299.5 320.2,299.5 325.99,300.44 331.79,301.37 337.59,303.23 343.38,303.23 349.18,300.44 354.98,302.3 360.78,301.37 366.58,301.37 372.37,300.44 378.17,300.44 383.97,299.5 389.76,300.44 395.56,299.5 401.36,300.44 407.16,301.37 412.96,301.37 418.75,305.1 424.55,342.4 430.35,342.4 436.15,342.4 441.94,342.4 447.74,335.87 453.54,331.21 459.34,325.61 465.13,314.42 470.93,305.1 476.73,306.96 482.52,301.37 488.32,301.37 494.12,299.5 499.92,301.37 505.72,303.23 511.51,299.5 517.31,303.23 523.11,301.37 528.9,301.37 534.7,300.44 540.5,296.71 540.5,301.37 534.7,305.1 528.9,307.9 523.11,306.96 517.31,309.76 511.51,305.1 505.72,310.69 499.92,307.9 494.12,305.1 488.32,308.83 482.52,308.83 476.73,325.61 470.93,320.02 465.13,340.53 459.34,340.53 453.54,340.53 447.74,340.53 441.94,342.4 436.15,342.4 430.35,342.4 424.55,342.4 418.75,309.76 412.96,306.03 407.16,305.1 401.36,305.1 395.56,304.17 389.76,304.17 383.97,304.17 378.17,304.17 372.37,305.1 366.58,305.1 360.78,306.03 354.98,306.96 349.18,305.1 343.38,310.69 337.59,314.42 331.79,312.56 325.99,306.03 320.2,305.1 314.4,305.1 308.6,306.96' fill='#1f77b4' fill-opacity='0.22' stroke='none'/>
<polygon points='308.6,301.37 314.4,301.37 320.2,301.37 325.99,302.3 331.79,301.37 337.59,301.37 343.38,301.37 349.18,301.37 354.98,302.3 360.78,303.23 366.58,303.23 372.37,303.23 378.17,304.17 383.97,305.1 389.76,306.96 395.56,316.29 401.36,331.21 407.16,338.67 412.96,342.4 418.75,342.4 424.55,342.4 430.35,342.4 436.15,316.29 441.94,310.69 447.74,312.56 453.54,308.83 459.34,305.1 465.13,304.17 470.93,304.17 476.73,304.17 482.52,303.23 488.32,302.3 494.12,303.23 499.92,303.23 505.72,303.23 511.51,304.17 517.31,303.23 523.11,301.37 528.9,303.23 534.7,303.23 540.5,301.37 540.5,308.83 534.7,310.69 528.9,310.69 523.11,306.96 517.31,310.69 511.51,322.82 505.72,310.69 499.92,312.56 494.12,314.42 488.32,308.83 482.52,310.69 476.73,310.69 470.93,310.69 465.13,310.69 459.34,312.56 453.54,318.15 447.74,323.75 441.94,320.02 436.15,325.61 430.35,342.4 424.55,342.4 418.75,342.4 412.96,342.4 407.16,341.47 401.36,340.53 395.56,333.07 389.76,335.5 383.97,317.04 378.17,314.8 372.37,318.15 366.58,321.88 360.78,310.69 354.98,320.21 349.18,312.56 343.38,308.83 337.59,309.76 331.79,317.04 325.99,309.76 320.2,310.69 314.4,309.76 308.6,309.76' fill='#ff7f0e' fill-opacity='0.22' stroke='none'/>
<polyline points='308.6,303.98 314.4,301.56 320.2,302.12 325.99,302.68 331.79,305.1 337.59,307.52 343.38,306.22 349.18,302.68 354.98,305.1 360.78,303.98 366.58,303.42 372.37,302.68 378.17,302.12 383.97,301.56 389.76,302.12 395.56,301.56 401.36,302.68 407.16,303.42 412.96,303.98 418.75,307.52 424.55,342.4 430.35,342.4 436.15,342.4 441.94,342.4 447.74,338.3 453.54,335.87 459.34,333.45 465.13,325.24 470.93,308.64 476.73,316.85 482.52,303.98 488.32,305.1 494.12,301.56 499.92,303.98 505.72,306.22 511.51,301.56 517.31,306.22 523.11,303.98 528.9,304.54 534.7,302.68 540.5,298.01' fill='none' stroke='#1f77b4' stroke-width='1.25' stroke-linejoin='round'/>
<polyline points='308.6,305.1 314.4,305.1 320.2,305.47 325.99,307.52 331.79,306.22 337.59,307.52 343.38,306.22 349.18,303.98 354.98,306.22 360.78,308.64 366.58,308.64 372.37,308.27 378.17,309.76 383.97,312.19 389.76,315.73 395.56,326.36 401.36,336.99 407.16,340.53 412.96,342.4 418.75,342.4 424.55,342.4 430.35,342.4 436.15,320.39 441.94,314.61 447.74,318.15 453.54,313.31 459.34,308.64 465.13,307.52 470.93,307.52 476.73,307.52 482.52,306.22 488.32,305.1 494.12,306.22 499.92,305.85 505.72,306.78 511.51,307.52 517.31,306.22 523.11,303.98 528.9,305.85 534.7,306.22 540.5,303.98' fill='none' stroke='#ff7f0e' stroke-width='1.25' stroke-linejoin='round'/>
</g>
<rect x='308.6' y='295.5' width='231.9' height='49' fill='none' stroke='#383838' stroke-width='1.0'/>
<line x1='308.6' y1='344.5' x2='308.6' y2='347.1' stroke='#383838' stroke-width='0.8'/>
<text x='308.6' y='354.7' text-anchor='middle' font-size='6.1'>−20</text>
<line x1='337.59' y1='344.5' x2='337.59' y2='347.1' stroke='#383838' stroke-width='0.8'/>
<text x='337.59' y='354.7' text-anchor='middle' font-size='6.1'>−15</text>
<line x1='366.58' y1='344.5' x2='366.58' y2='347.1' stroke='#383838' stroke-width='0.8'/>
<text x='366.58' y='354.7' text-anchor='middle' font-size='6.1'>−10</text>
<line x1='395.56' y1='344.5' x2='395.56' y2='347.1' stroke='#383838' stroke-width='0.8'/>
<text x='395.56' y='354.7' text-anchor='middle' font-size='6.1'>−5</text>
<line x1='424.55' y1='344.5' x2='424.55' y2='347.1' stroke='#383838' stroke-width='0.8'/>
<text x='424.55' y='354.7' text-anchor='middle' font-size='6.1'>0</text>
<line x1='453.54' y1='344.5' x2='453.54' y2='347.1' stroke='#383838' stroke-width='0.8'/>
<text x='453.54' y='354.7' text-anchor='middle' font-size='6.1'>5</text>
<line x1='482.52' y1='344.5' x2='482.52' y2='347.1' stroke='#383838' stroke-width='0.8'/>
<text x='482.52' y='354.7' text-anchor='middle' font-size='6.1'>10</text>
<line x1='511.51' y1='344.5' x2='511.51' y2='347.1' stroke='#383838' stroke-width='0.8'/>
<text x='511.51' y='354.7' text-anchor='middle' font-size='6.1'>15</text>
<line x1='540.5' y1='344.5' x2='540.5' y2='347.1' stroke='#383838' stroke-width='0.8'/>
<text x='540.5' y='354.7' text-anchor='middle' font-size='6.1'>20</text>
<line x1='306' y1='342.4' x2='308.6' y2='342.4' stroke='#383838' stroke-width='0.8'/>
<text x='303.3' y='344.6' text-anchor='end' font-size='6.1'>10<tspan dy='-2.6' font-size='4.3'>0</tspan></text>
<line x1='306' y1='323.75' x2='308.6' y2='323.75' stroke='#383838' stroke-width='0.8'/>
<text x='303.3' y='325.95' text-anchor='end' font-size='6.1'>10<tspan dy='-2.6' font-size='4.3'>1</tspan></text>
<line x1='306' y1='305.1' x2='308.6' y2='305.1' stroke='#383838' stroke-width='0.8'/>
<text x='303.3' y='307.3' text-anchor='end' font-size='6.1'>10<tspan dy='-2.6' font-size='4.3'>2</tspan></text>
<line x1='307.1' y1='344.21' x2='308.6' y2='344.21' stroke='#383838' stroke-width='0.6'/>
<line x1='307.1' y1='343.25' x2='308.6' y2='343.25' stroke='#383838' stroke-width='0.6'/>
<line x1='307.1' y1='336.79' x2='308.6' y2='336.79' stroke='#383838' stroke-width='0.6'/>
<line x1='307.1' y1='333.5' x2='308.6' y2='333.5' stroke='#383838' stroke-width='0.6'/>
<line x1='307.1' y1='331.17' x2='308.6' y2='331.17' stroke='#383838' stroke-width='0.6'/>
<line x1='307.1' y1='329.36' x2='308.6' y2='329.36' stroke='#383838' stroke-width='0.6'/>
<line x1='307.1' y1='327.89' x2='308.6' y2='327.89' stroke='#383838' stroke-width='0.6'/>
<line x1='307.1' y1='326.64' x2='308.6' y2='326.64' stroke='#383838' stroke-width='0.6'/>
<line x1='307.1' y1='325.56' x2='308.6' y2='325.56' stroke='#383838' stroke-width='0.6'/>
<line x1='307.1' y1='324.6' x2='308.6' y2='324.6' stroke='#383838' stroke-width='0.6'/>
<line x1='307.1' y1='318.14' x2='308.6' y2='318.14' stroke='#383838' stroke-width='0.6'/>
<line x1='307.1' y1='314.85' x2='308.6' y2='314.85' stroke='#383838' stroke-width='0.6'/>
<line x1='307.1' y1='312.52' x2='308.6' y2='312.52' stroke='#383838' stroke-width='0.6'/>
<line x1='307.1' y1='310.71' x2='308.6' y2='310.71' stroke='#383838' stroke-width='0.6'/>
<line x1='307.1' y1='309.24' x2='308.6' y2='309.24' stroke='#383838' stroke-width='0.6'/>
<line x1='307.1' y1='307.99' x2='308.6' y2='307.99' stroke='#383838' stroke-width='0.6'/>
<line x1='307.1' y1='306.91' x2='308.6' y2='306.91' stroke='#383838' stroke-width='0.6'/>
<line x1='307.1' y1='305.95' x2='308.6' y2='305.95' stroke='#383838' stroke-width='0.6'/>
<line x1='307.1' y1='299.49' x2='308.6' y2='299.49' stroke='#383838' stroke-width='0.6'/>
<line x1='307.1' y1='296.2' x2='308.6' y2='296.2' stroke='#383838' stroke-width='0.6'/>
<text x='424.55' y='291.1' text-anchor='middle' font-size='7.75'>zaid_ascad_desync_0</text>
<text transform='translate(288,320) rotate(-90)' text-anchor='middle' font-size='6.25'>Guessing Entropy</text>
<line x1='37.2' y1='375.3' x2='37.2' y2='424.4' stroke='#dcdcdc' stroke-width='0.8'/>
<line x1='66.12' y1='375.3' x2='66.12' y2='424.4' stroke='#dcdcdc' stroke-width='0.8'/>
<line x1='95.05' y1='375.3' x2='95.05' y2='424.4' stroke='#dcdcdc' stroke-width='0.8'/>
<line x1='123.98' y1='375.3' x2='123.98' y2='424.4' stroke='#dcdcdc' stroke-width='0.8'/>
<line x1='152.9' y1='375.3' x2='152.9' y2='424.4' stroke='#dcdcdc' stroke-width='0.8'/>
<line x1='181.83' y1='375.3' x2='181.83' y2='424.4' stroke='#dcdcdc' stroke-width='0.8'/>
<line x1='210.75' y1='375.3' x2='210.75' y2='424.4' stroke='#dcdcdc' stroke-width='0.8'/>
<line x1='239.68' y1='375.3' x2='239.68' y2='424.4' stroke='#dcdcdc' stroke-width='0.8'/>
<line x1='268.6' y1='375.3' x2='268.6' y2='424.4' stroke='#dcdcdc' stroke-width='0.8'/>
<line x1='37.2' y1='424.4' x2='268.6' y2='424.4' stroke='#dcdcdc' stroke-width='0.8'/>
<line x1='37.2' y1='399.85' x2='268.6' y2='399.85' stroke='#dcdcdc' stroke-width='0.8'/>
<line x1='37.2' y1='375.3' x2='268.6' y2='375.3' stroke='#dcdcdc' stroke-width='0.8'/>
<g clip-path='url(#c8)'>
<polygon points='37.2,370.39 147.12,361.8 152.9,407.26 158.69,401.08 164.47,385.12 170.25,350.75 268.6,350.75 268.6,350.75 170.25,350.75 164.47,390.03 158.69,402.92 152.9,407.26 147.12,361.8 37.2,370.39' fill='#1f77b4' fill-opacity='0.22' stroke='none'/>
<polyline points='37.2,370.39 147.12,361.8 152.9,407.26 158.69,402.16 164.47,387.57 170.25,350.75 268.6,350.75' fill='none' stroke='#1f77b4' stroke-width='1.25' stroke-linejoin='round'/>
</g>
<rect x='37.2' y='375.3' width='231.4' height='49.1' fill='none' stroke='#383838' stroke-width='1.0'/>
<line x1='37.2' y1='424.4' x2='37.2' y2='427' stroke='#383838' stroke-width='0.8'/>
<text x='37.2' y='434.6' text-anchor='middle' font-size='6.1'>−20</text>
<line x1='66.12' y1='424.4' x2='66.12' y2='427' stroke='#383838' stroke-width='0.8'/>
<text x='66.12' y='434.6' text-anchor='middle' font-size='6.1'>−15</text>
<line x1='95.05' y1='424.4' x2='95.05' y2='427' stroke='#383838' stroke-width='0.8'/>
<text x='95.05' y='434.6' text-anchor='middle' font-size='6.1'>−10</text>
<line x1='123.98' y1='424.4' x2='123.98' y2='427' stroke='#383838' stroke-width='0.8'/>
<text x='123.98' y='434.6' text-anchor='middle' font-size='6.1'>−5</text>
<line x1='152.9' y1='424.4' x2='152.9' y2='427' stroke='#383838' stroke-width='0.8'/>
<text x='152.9' y='434.6' text-anchor='middle' font-size='6.1'>0</text>
<line x1='181.83' y1='424.4' x2='181.83' y2='427' stroke='#383838' stroke-width='0.8'/>
<text x='181.83' y='434.6' text-anchor='middle' font-size='6.1'>5</text>
<line x1='210.75' y1='424.4' x2='210.75' y2='427' stroke='#383838' stroke-width='0.8'/>
<text x='210.75' y='434.6' text-anchor='middle' font-size='6.1'>10</text>
<line x1='239.68' y1='424.4' x2='239.68' y2='427' stroke='#383838' stroke-width='0.8'/>
<text x='239.68' y='434.6' text-anchor='middle' font-size='6.1'>15</text>
<line x1='268.6' y1='424.4' x2='268.6' y2='427' stroke='#383838' stroke-width='0.8'/>
<text x='268.6' y='434.6' text-anchor='middle' font-size='6.1'>20</text>
<line x1='34.6' y1='424.4' x2='37.2' y2='424.4' stroke='#383838' stroke-width='0.8'/>
<text x='31.6' y='426.6' text-anchor='end' font-size='6.1'>0</text>
<line x1='34.6' y1='399.85' x2='37.2' y2='399.85' stroke='#383838' stroke-width='0.8'/>
<text x='31.6' y='402.05' text-anchor='end' font-size='6.1'>2000</text>
<line x1='34.6' y1='375.3' x2='37.2' y2='375.3' stroke='#383838' stroke-width='0.8'/>
<text x='31.6' y='377.5' text-anchor='end' font-size='6.1'>4000</text>
<text x='152.9' y='370.9' text-anchor='middle' font-size='7.75'>noConv1_ascad_desync_0</text>
<text transform='translate(9.9,399.55) rotate(-90)' text-anchor='middle' font-size='6.9' font-style='italic'>N<tspan dy='1.1' font-size='4.1'>ge = 1</tspan></text>
<line x1='308.6' y1='375.3' x2='308.6' y2='424.4' stroke='#dcdcdc' stroke-width='0.8'/>
<line x1='337.59' y1='375.3' x2='337.59' y2='424.4' stroke='#dcdcdc' stroke-width='0.8'/>
<line x1='366.58' y1='375.3' x2='366.58' y2='424.4' stroke='#dcdcdc' stroke-width='0.8'/>
<line x1='395.56' y1='375.3' x2='395.56' y2='424.4' stroke='#dcdcdc' stroke-width='0.8'/>
<line x1='424.55' y1='375.3' x2='424.55' y2='424.4' stroke='#dcdcdc' stroke-width='0.8'/>
<line x1='453.54' y1='375.3' x2='453.54' y2='424.4' stroke='#dcdcdc' stroke-width='0.8'/>
<line x1='482.52' y1='375.3' x2='482.52' y2='424.4' stroke='#dcdcdc' stroke-width='0.8'/>
<line x1='511.51' y1='375.3' x2='511.51' y2='424.4' stroke='#dcdcdc' stroke-width='0.8'/>
<line x1='540.5' y1='375.3' x2='540.5' y2='424.4' stroke='#dcdcdc' stroke-width='0.8'/>
<line x1='308.6' y1='422.3' x2='540.5' y2='422.3' stroke='#dcdcdc' stroke-width='0.8'/>
<line x1='308.6' y1='403.65' x2='540.5' y2='403.65' stroke='#dcdcdc' stroke-width='0.8'/>
<line x1='308.6' y1='385' x2='540.5' y2='385' stroke='#dcdcdc' stroke-width='0.8'/>
<g clip-path='url(#c9)'>
<polygon points='308.6,377.54 314.4,377.54 320.2,377.54 325.99,377.54 331.79,377.54 337.59,377.54 343.38,377.54 349.18,377.54 354.98,377.54 360.78,377.54 366.58,378.85 372.37,379.59 378.17,380.34 383.97,380.71 389.76,381.27 395.56,382.02 401.36,382.76 407.16,384.07 412.96,385 418.75,394.32 424.55,422.3 430.35,422.3 436.15,417.64 441.94,404.58 447.74,393.39 453.54,391.53 459.34,388.73 465.13,384.07 470.93,381.27 476.73,381.27 482.52,377.54 488.32,376.61 494.12,378.1 499.92,377.17 505.72,378.1 511.51,377.17 517.31,378.1 523.11,377.54 528.9,377.54 534.7,377.17 540.5,376.05 540.5,379.4 534.7,380.34 528.9,381.27 523.11,380.9 517.31,381.27 511.51,380.34 505.72,381.27 499.92,380.34 494.12,381.27 488.32,379.4 482.52,381.27 476.73,385 470.93,386.86 465.13,392.46 459.34,399.92 453.54,403.65 447.74,407.38 441.94,416.7 436.15,421.37 430.35,422.3 424.55,422.3 418.75,401.78 412.96,387.8 407.16,386.86 401.36,384.25 395.56,383.51 389.76,382.76 383.97,382.2 378.17,381.83 372.37,381.08 366.58,380.34 360.78,379.4 354.98,379.4 349.18,379.4 343.38,379.4 337.59,379.4 331.79,379.4 325.99,379.4 320.2,379.4 314.4,379.4 308.6,379.4' fill='#1f77b4' fill-opacity='0.22' stroke='none'/>
<polygon points='308.6,381.27 314.4,380.34 320.2,381.27 325.99,380.34 331.79,379.4 337.59,379.4 343.38,379.4 349.18,380.34 354.98,379.4 360.78,379.4 366.58,379.4 372.37,379.4 378.17,379.4 383.97,380.34 389.76,380.9 395.56,380.71 401.36,380.34 407.16,380.15 412.96,380.15 418.75,380.15 424.55,380.15 430.35,380.15 436.15,380.15 441.94,380.15 447.74,380.15 453.54,380.15 459.34,380.15 465.13,380.15 470.93,380.15 476.73,380.15 482.52,380.15 488.32,380.15 494.12,380.15 499.92,380.15 505.72,379.4 511.51,379.4 517.31,379.4 523.11,379.4 528.9,379.4 534.7,381.27 540.5,379.4 540.5,385 534.7,390.59 528.9,385.93 523.11,393.39 517.31,383.13 511.51,383.13 505.72,381.27 499.92,380.52 494.12,380.52 488.32,380.52 482.52,380.52 476.73,380.52 470.93,380.52 465.13,380.52 459.34,380.52 453.54,380.52 447.74,380.52 441.94,380.52 436.15,380.52 430.35,380.52 424.55,380.52 418.75,380.52 412.96,380.71 407.16,380.9 401.36,381.08 395.56,381.46 389.76,381.83 383.97,381.64 378.17,381.27 372.37,383.13 366.58,385.93 360.78,390.59 354.98,397.12 349.18,394.32 343.38,394.32 337.59,396.19 331.79,395.26 325.99,397.12 320.2,399.92 314.4,393.39 308.6,386.86' fill='#ff7f0e' fill-opacity='0.22' stroke='none'/>
<polyline points='308.6,378.1 314.4,378.66 320.2,378.47 325.99,378.1 331.79,378.1 337.59,379.22 343.38,378.47 349.18,378.66 354.98,379.22 360.78,378.85 366.58,379.59 372.37,380.34 378.17,381.08 383.97,381.46 389.76,382.02 395.56,382.76 401.36,383.51 407.16,385.19 412.96,386.31 418.75,398.05 424.55,422.3 430.35,422.3 436.15,419.32 441.94,407.57 447.74,395.82 453.54,393.39 459.34,390.97 465.13,386.31 470.93,382.76 476.73,382.76 482.52,379.22 488.32,377.91 494.12,379.59 499.92,378.66 505.72,379.59 511.51,378.66 517.31,379.59 523.11,379.22 528.9,379.22 534.7,378.66 540.5,377.35' fill='none' stroke='#1f77b4' stroke-width='1.25' stroke-linejoin='round'/>
<polyline points='308.6,386.31 314.4,383.88 320.2,388.73 325.99,385.19 331.79,382.76 337.59,381.46 343.38,382.76 349.18,385.19 354.98,383.88 360.78,386.31 366.58,381.08 372.37,380.34 378.17,379.96 383.97,381.08 389.76,381.46 395.56,381.08 401.36,380.71 407.16,380.52 412.96,380.34 418.75,380.34 424.55,380.34 430.35,380.34 436.15,380.34 441.94,380.34 447.74,380.34 453.54,380.34 459.34,380.34 465.13,380.34 470.93,380.34 476.73,380.34 482.52,380.34 488.32,380.34 494.12,380.34 499.92,380.34 505.72,380.34 511.51,381.46 517.31,380.34 523.11,382.76 528.9,381.46 534.7,387.42 540.5,382.02' fill='none' stroke='#ff7f0e' stroke-width='1.25' stroke-linejoin='round'/>
</g>
<rect x='308.6' y='375.3' width='231.9' height='49.1' fill='none' stroke='#383838' stroke-width='1.0'/>
<line x1='308.6' y1='424.4' x2='308.6' y2='427' stroke='#383838' stroke-width='0.8'/>
<text x='308.6' y='434.6' text-anchor='middle' font-size='6.1'>−20</text>
<line x1='337.59' y1='424.4' x2='337.59' y2='427' stroke='#383838' stroke-width='0.8'/>
<text x='337.59' y='434.6' text-anchor='middle' font-size='6.1'>−15</text>
<line x1='366.58' y1='424.4' x2='366.58' y2='427' stroke='#383838' stroke-width='0.8'/>
<text x='366.58' y='434.6' text-anchor='middle' font-size='6.1'>−10</text>
<line x1='395.56' y1='424.4' x2='395.56' y2='427' stroke='#383838' stroke-width='0.8'/>
<text x='395.56' y='434.6' text-anchor='middle' font-size='6.1'>−5</text>
<line x1='424.55' y1='424.4' x2='424.55' y2='427' stroke='#383838' stroke-width='0.8'/>
<text x='424.55' y='434.6' text-anchor='middle' font-size='6.1'>0</text>
<line x1='453.54' y1='424.4' x2='453.54' y2='427' stroke='#383838' stroke-width='0.8'/>
<text x='453.54' y='434.6' text-anchor='middle' font-size='6.1'>5</text>
<line x1='482.52' y1='424.4' x2='482.52' y2='427' stroke='#383838' stroke-width='0.8'/>
<text x='482.52' y='434.6' text-anchor='middle' font-size='6.1'>10</text>
<line x1='511.51' y1='424.4' x2='511.51' y2='427' stroke='#383838' stroke-width='0.8'/>
<text x='511.51' y='434.6' text-anchor='middle' font-size='6.1'>15</text>
<line x1='540.5' y1='424.4' x2='540.5' y2='427' stroke='#383838' stroke-width='0.8'/>
<text x='540.5' y='434.6' text-anchor='middle' font-size='6.1'>20</text>
<line x1='306' y1='422.3' x2='308.6' y2='422.3' stroke='#383838' stroke-width='0.8'/>
<text x='303.3' y='424.5' text-anchor='end' font-size='6.1'>10<tspan dy='-2.6' font-size='4.3'>0</tspan></text>
<line x1='306' y1='403.65' x2='308.6' y2='403.65' stroke='#383838' stroke-width='0.8'/>
<text x='303.3' y='405.85' text-anchor='end' font-size='6.1'>10<tspan dy='-2.6' font-size='4.3'>1</tspan></text>
<line x1='306' y1='385' x2='308.6' y2='385' stroke='#383838' stroke-width='0.8'/>
<text x='303.3' y='387.2' text-anchor='end' font-size='6.1'>10<tspan dy='-2.6' font-size='4.3'>2</tspan></text>
<line x1='307.1' y1='424.11' x2='308.6' y2='424.11' stroke='#383838' stroke-width='0.6'/>
<line x1='307.1' y1='423.15' x2='308.6' y2='423.15' stroke='#383838' stroke-width='0.6'/>
<line x1='307.1' y1='416.69' x2='308.6' y2='416.69' stroke='#383838' stroke-width='0.6'/>
<line x1='307.1' y1='413.4' x2='308.6' y2='413.4' stroke='#383838' stroke-width='0.6'/>
<line x1='307.1' y1='411.07' x2='308.6' y2='411.07' stroke='#383838' stroke-width='0.6'/>
<line x1='307.1' y1='409.26' x2='308.6' y2='409.26' stroke='#383838' stroke-width='0.6'/>
<line x1='307.1' y1='407.79' x2='308.6' y2='407.79' stroke='#383838' stroke-width='0.6'/>
<line x1='307.1' y1='406.54' x2='308.6' y2='406.54' stroke='#383838' stroke-width='0.6'/>
<line x1='307.1' y1='405.46' x2='308.6' y2='405.46' stroke='#383838' stroke-width='0.6'/>
<line x1='307.1' y1='404.5' x2='308.6' y2='404.5' stroke='#383838' stroke-width='0.6'/>
<line x1='307.1' y1='398.04' x2='308.6' y2='398.04' stroke='#383838' stroke-width='0.6'/>
<line x1='307.1' y1='394.75' x2='308.6' y2='394.75' stroke='#383838' stroke-width='0.6'/>
<line x1='307.1' y1='392.42' x2='308.6' y2='392.42' stroke='#383838' stroke-width='0.6'/>
<line x1='307.1' y1='390.61' x2='308.6' y2='390.61' stroke='#383838' stroke-width='0.6'/>
<line x1='307.1' y1='389.14' x2='308.6' y2='389.14' stroke='#383838' stroke-width='0.6'/>
<line x1='307.1' y1='387.89' x2='308.6' y2='387.89' stroke='#383838' stroke-width='0.6'/>
<line x1='307.1' y1='386.81' x2='308.6' y2='386.81' stroke='#383838' stroke-width='0.6'/>
<line x1='307.1' y1='385.85' x2='308.6' y2='385.85' stroke='#383838' stroke-width='0.6'/>
<line x1='307.1' y1='379.39' x2='308.6' y2='379.39' stroke='#383838' stroke-width='0.6'/>
<line x1='307.1' y1='376.1' x2='308.6' y2='376.1' stroke='#383838' stroke-width='0.6'/>
<text x='424.55' y='370.9' text-anchor='middle' font-size='7.75'>noConv1_ascad_desync_0</text>
<text transform='translate(288,399.85) rotate(-90)' text-anchor='middle' font-size='6.25'>Guessing Entropy</text>
<line x1='37.2' y1='454.7' x2='37.2' y2='504.2' stroke='#dcdcdc' stroke-width='0.8'/>
<line x1='66.12' y1='454.7' x2='66.12' y2='504.2' stroke='#dcdcdc' stroke-width='0.8'/>
<line x1='95.05' y1='454.7' x2='95.05' y2='504.2' stroke='#dcdcdc' stroke-width='0.8'/>
<line x1='123.98' y1='454.7' x2='123.98' y2='504.2' stroke='#dcdcdc' stroke-width='0.8'/>
<line x1='152.9' y1='454.7' x2='152.9' y2='504.2' stroke='#dcdcdc' stroke-width='0.8'/>
<line x1='181.83' y1='454.7' x2='181.83' y2='504.2' stroke='#dcdcdc' stroke-width='0.8'/>
<line x1='210.75' y1='454.7' x2='210.75' y2='504.2' stroke='#dcdcdc' stroke-width='0.8'/>
<line x1='239.68' y1='454.7' x2='239.68' y2='504.2' stroke='#dcdcdc' stroke-width='0.8'/>
<line x1='268.6' y1='454.7' x2='268.6' y2='504.2' stroke='#dcdcdc' stroke-width='0.8'/>
<line x1='37.2' y1='504.2' x2='268.6' y2='504.2' stroke='#dcdcdc' stroke-width='0.8'/>
<line x1='37.2' y1='479.45' x2='268.6' y2='479.45' stroke='#dcdcdc' stroke-width='0.8'/>
<line x1='37.2' y1='454.7' x2='268.6' y2='454.7' stroke='#dcdcdc' stroke-width='0.8'/>
<g clip-path='url(#c10)'>
<polygon points='37.2,449.75 40.67,449.75 42.99,449.75 46.46,449.75 49.12,449.75 77.46,449.75 81.05,449.75 86.84,454.7 93.89,459.65 101.07,447.27 106.97,447.27 112.87,473.26 118.77,475.74 124.67,455.94 129.3,480.69 135.2,484.4 141.1,496.16 148.16,500.86 152.9,502.22 157.18,499.5 163.31,494.3 169.45,489.97 175.58,478.21 181.71,479.45 186.57,475.74 193.97,454.7 198.83,449.75 202.54,449.75 213.06,449.75 215.38,449.75 217.69,449.75 268.6,449.75 268.6,449.75 217.69,454.7 215.38,464.6 213.06,454.7 202.54,455.07 198.83,470.79 193.97,484.4 186.57,486.88 181.71,483.16 175.58,483.16 169.45,493.06 163.31,496.53 157.18,500.86 152.9,502.96 148.16,501.97 141.1,498.26 135.2,490.2 129.3,486.5 124.67,479.3 118.77,486.5 112.87,482 106.97,477.49 101.07,477.49 93.89,466.51 86.84,464.6 81.05,463.36 77.46,454.7 49.12,454.7 46.46,458.41 42.99,459.03 40.67,457.79 37.2,454.7' fill='#1f77b4' fill-opacity='0.22' stroke='none'/>
<polygon points='37.2,449.75 138.78,454.7 143.53,458.41 148.27,475.74 152.9,502.34 158.34,491.82 162.04,472.02 165.74,454.7 268.6,449.75 268.6,449.75 165.74,454.7 162.04,479.45 158.34,495.54 152.9,502.96 148.27,486.26 143.53,470.79 138.78,454.7 37.2,449.75' fill='#ff7f0e' fill-opacity='0.22' stroke='none'/>
<polyline points='37.2,454.7 40.67,455.32 42.99,455.94 46.46,455.32 49.12,454.7 77.46,454.7 81.05,458.29 86.84,460.64 93.89,462.99 101.07,472.4 106.97,473.51 112.87,480.69 118.77,482.54 124.67,470.05 129.3,484.15 135.2,487.74 141.1,497.15 148.16,501.35 152.9,502.59 157.18,500.24 163.31,495.41 169.45,491.7 175.58,481.43 181.71,481.43 186.57,481.93 193.97,472.15 198.83,468.44 202.54,455.07 213.06,454.7 215.38,458.41 217.69,454.7 268.6,449.75' fill='none' stroke='#1f77b4' stroke-width='1.25' stroke-linejoin='round'/>
<polyline points='37.2,449.75 138.78,454.7 143.53,468.81 148.27,484.4 152.9,502.96 158.34,494.18 162.04,477.1 165.74,454.7 268.6,449.75' fill='none' stroke='#ff7f0e' stroke-width='1.25' stroke-linejoin='round'/>
</g>
<rect x='37.2' y='454.7' width='231.4' height='49.5' fill='none' stroke='#383838' stroke-width='1.0'/>
<line x1='37.2' y1='504.2' x2='37.2' y2='506.8' stroke='#383838' stroke-width='0.8'/>
<text x='37.2' y='514.4' text-anchor='middle' font-size='6.1'>−100</text>
<line x1='66.12' y1='504.2' x2='66.12' y2='506.8' stroke='#383838' stroke-width='0.8'/>
<text x='66.12' y='514.4' text-anchor='middle' font-size='6.1'>−75</text>
<line x1='95.05' y1='504.2' x2='95.05' y2='506.8' stroke='#383838' stroke-width='0.8'/>
<text x='95.05' y='514.4' text-anchor='middle' font-size='6.1'>−50</text>
<line x1='123.98' y1='504.2' x2='123.98' y2='506.8' stroke='#383838' stroke-width='0.8'/>
<text x='123.98' y='514.4' text-anchor='middle' font-size='6.1'>−25</text>
<line x1='152.9' y1='504.2' x2='152.9' y2='506.8' stroke='#383838' stroke-width='0.8'/>
<text x='152.9' y='514.4' text-anchor='middle' font-size='6.1'>0</text>
<line x1='181.83' y1='504.2' x2='181.83' y2='506.8' stroke='#383838' stroke-width='0.8'/>
<text x='181.83' y='514.4' text-anchor='middle' font-size='6.1'>25</text>
<line x1='210.75' y1='504.2' x2='210.75' y2='506.8' stroke='#383838' stroke-width='0.8'/>
<text x='210.75' y='514.4' text-anchor='middle' font-size='6.1'>50</text>
<line x1='239.68' y1='504.2' x2='239.68' y2='506.8' stroke='#383838' stroke-width='0.8'/>
<text x='239.68' y='514.4' text-anchor='middle' font-size='6.1'>75</text>
<line x1='268.6' y1='504.2' x2='268.6' y2='506.8' stroke='#383838' stroke-width='0.8'/>
<text x='268.6' y='514.4' text-anchor='middle' font-size='6.1'>100</text>
<line x1='34.6' y1='504.2' x2='37.2' y2='504.2' stroke='#383838' stroke-width='0.8'/>
<text x='31.6' y='506.4' text-anchor='end' font-size='6.1'>0</text>
<line x1='34.6' y1='479.45' x2='37.2' y2='479.45' stroke='#383838' stroke-width='0.8'/>
<text x='31.6' y='481.65' text-anchor='end' font-size='6.1'>2000</text>
<line x1='34.6' y1='454.7' x2='37.2' y2='454.7' stroke='#383838' stroke-width='0.8'/>
<text x='31.6' y='456.9' text-anchor='end' font-size='6.1'>4000</text>
<text x='152.9' y='450.3' text-anchor='middle' font-size='7.75'>zaid_ascad_desync_100</text>
<text transform='translate(9.9,479.15) rotate(-90)' text-anchor='middle' font-size='6.9' font-style='italic'>N<tspan dy='1.1' font-size='4.1'>ge = 1</tspan></text>
<line x1='308.6' y1='454.7' x2='308.6' y2='504.2' stroke='#dcdcdc' stroke-width='0.8'/>
<line x1='337.59' y1='454.7' x2='337.59' y2='504.2' stroke='#dcdcdc' stroke-width='0.8'/>
<line x1='366.58' y1='454.7' x2='366.58' y2='504.2' stroke='#dcdcdc' stroke-width='0.8'/>
<line x1='395.56' y1='454.7' x2='395.56' y2='504.2' stroke='#dcdcdc' stroke-width='0.8'/>
<line x1='424.55' y1='454.7' x2='424.55' y2='504.2' stroke='#dcdcdc' stroke-width='0.8'/>
<line x1='453.54' y1='454.7' x2='453.54' y2='504.2' stroke='#dcdcdc' stroke-width='0.8'/>
<line x1='482.52' y1='454.7' x2='482.52' y2='504.2' stroke='#dcdcdc' stroke-width='0.8'/>
<line x1='511.51' y1='454.7' x2='511.51' y2='504.2' stroke='#dcdcdc' stroke-width='0.8'/>
<line x1='540.5' y1='454.7' x2='540.5' y2='504.2' stroke='#dcdcdc' stroke-width='0.8'/>
<line x1='308.6' y1='502.1' x2='540.5' y2='502.1' stroke='#dcdcdc' stroke-width='0.8'/>
<line x1='308.6' y1='483.45' x2='540.5' y2='483.45' stroke='#dcdcdc' stroke-width='0.8'/>
<line x1='308.6' y1='464.8' x2='540.5' y2='464.8' stroke='#dcdcdc' stroke-width='0.8'/>
<g clip-path='url(#c11)'>
<polygon points='308.6,462.93 314.4,466.66 320.2,472.26 325.99,462.93 331.79,468.53 337.59,475.99 343.38,475.99 349.18,479.72 354.98,485.31 360.78,490.91 366.58,494.64 372.37,498.37 378.17,493.71 383.97,499.3 389.76,500.23 395.56,498.37 401.36,501.17 407.16,502.1 412.96,502.1 418.75,502.1 424.55,502.1 430.35,502.1 436.15,502.1 441.94,502.1 447.74,502.1 453.54,502.1 459.34,502.1 465.13,494.64 470.93,496.5 476.73,479.72 482.52,464.8 488.32,472.26 494.12,463.87 499.92,461.07 505.72,460.14 511.51,457.34 517.31,460.14 523.11,462 528.9,459.2 534.7,460.14 540.5,459.2 540.5,474.12 534.7,468.53 528.9,466.66 523.11,470.39 517.31,468.53 511.51,462.93 505.72,468.53 499.92,470.39 494.12,475.99 488.32,494.64 482.52,490.91 476.73,496.5 470.93,501.17 465.13,501.17 459.34,502.1 453.54,502.1 447.74,502.1 441.94,502.1 436.15,502.1 430.35,502.1 424.55,502.1 418.75,502.1 412.96,502.1 407.16,502.1 401.36,502.1 395.56,501.17 389.76,502.1 383.97,502.1 378.17,500.23 372.37,502.1 366.58,501.17 360.78,500.23 354.98,499.3 349.18,496.5 343.38,496.5 337.59,496.5 331.79,485.31 325.99,477.85 320.2,496.5 314.4,494.64 308.6,472.26' fill='#1f77b4' fill-opacity='0.22' stroke='none'/>
<polygon points='308.6,468.53 314.4,466.66 320.2,463.87 325.99,466.66 331.79,468.53 337.59,467.6 343.38,467.6 349.18,466.66 354.98,470.39 360.78,466.66 366.58,467.6 372.37,471.33 378.17,465.73 383.97,470.39 389.76,474.12 395.56,472.26 401.36,475.99 407.16,474.12 412.96,492.77 418.75,499.3 424.55,502.1 430.35,502.1 436.15,496.5 441.94,477.85 447.74,472.26 453.54,466.66 459.34,466.66 465.13,466.66 470.93,466.66 476.73,470.39 482.52,470.39 488.32,468.53 494.12,463.87 499.92,465.73 505.72,460.14 511.51,460.14 517.31,462.93 523.11,466.66 528.9,465.73 534.7,463.87 540.5,459.2 540.5,466.66 534.7,474.12 528.9,479.72 523.11,489.98 517.31,477.85 511.51,470.39 505.72,468.53 499.92,475.99 494.12,474.12 488.32,479.72 482.52,481.58 476.73,481.58 470.93,477.85 465.13,477.85 459.34,477.85 453.54,477.85 447.74,483.45 441.94,485.31 436.15,500.23 430.35,502.1 424.55,502.1 418.75,501.54 412.96,500.23 407.16,489.04 401.36,492.77 395.56,489.04 389.76,492.77 383.97,489.04 378.17,485.31 372.37,489.04 366.58,485.31 360.78,483.45 354.98,487.18 349.18,483.45 343.38,483.45 337.59,483.45 331.79,483.45 325.99,483.45 320.2,477.85 314.4,479.72 308.6,481.58' fill='#ff7f0e' fill-opacity='0.22' stroke='none'/>
<polyline points='308.6,467.41 314.4,475.8 320.2,486.43 325.99,467.41 331.79,475.8 337.59,487.55 343.38,484.76 349.18,488.67 354.98,493.52 360.78,496.5 366.58,498.93 372.37,501.35 378.17,497.44 383.97,501.35 389.76,501.35 395.56,499.86 401.36,501.73 407.16,502.1 412.96,502.1 418.75,502.1 424.55,502.1 430.35,502.1 436.15,502.1 441.94,502.1 447.74,502.1 453.54,502.1 459.34,502.1 465.13,498.18 470.93,499.3 476.73,488.67 482.52,470.95 488.32,486.43 494.12,468.72 499.92,465.17 505.72,463.87 511.51,459.2 517.31,463.87 523.11,466.29 528.9,462.75 534.7,463.87 540.5,462.75' fill='none' stroke='#1f77b4' stroke-width='1.25' stroke-linejoin='round'/>
<polyline points='308.6,475.8 314.4,472.26 320.2,468.72 325.99,473.38 331.79,475.24 337.59,474.5 343.38,474.5 349.18,473.38 354.98,479.35 360.78,473.38 366.58,475.8 372.37,481.58 378.17,474.5 383.97,479.35 389.76,486.43 395.56,480.47 401.36,485.13 407.16,480.47 412.96,497.06 418.75,500.61 424.55,502.1 430.35,502.1 436.15,498.18 441.94,481.58 447.74,479.35 453.54,472.26 459.34,472.26 465.13,472.26 470.93,472.26 476.73,475.8 482.52,475.8 488.32,474.5 494.12,468.72 499.92,470.95 505.72,463.87 511.51,463.87 517.31,468.72 523.11,472.26 528.9,470.95 534.7,468.72 540.5,461.63' fill='none' stroke='#ff7f0e' stroke-width='1.25' stroke-linejoin='round'/>
</g>
<rect x='308.6' y='454.7' width='231.9' height='49.5' fill='none' stroke='#383838' stroke-width='1.0'/>
<line x1='308.6' y1='504.2' x2='308.6' y2='506.8' stroke='#383838' stroke-width='0.8'/>
<text x='308.6' y='514.4' text-anchor='middle' font-size='6.1'>−100</text>
<line x1='337.59' y1='504.2' x2='337.59' y2='506.8' stroke='#383838' stroke-width='0.8'/>
<text x='337.59' y='514.4' text-anchor='middle' font-size='6.1'>−75</text>
<line x1='366.58' y1='504.2' x2='366.58' y2='506.8' stroke='#383838' stroke-width='0.8'/>
<text x='366.58' y='514.4' text-anchor='middle' font-size='6.1'>−50</text>
<line x1='395.56' y1='504.2' x2='395.56' y2='506.8' stroke='#383838' stroke-width='0.8'/>
<text x='395.56' y='514.4' text-anchor='middle' font-size='6.1'>−25</text>
<line x1='424.55' y1='504.2' x2='424.55' y2='506.8' stroke='#383838' stroke-width='0.8'/>
<text x='424.55' y='514.4' text-anchor='middle' font-size='6.1'>0</text>
<line x1='453.54' y1='504.2' x2='453.54' y2='506.8' stroke='#383838' stroke-width='0.8'/>
<text x='453.54' y='514.4' text-anchor='middle' font-size='6.1'>25</text>
<line x1='482.52' y1='504.2' x2='482.52' y2='506.8' stroke='#383838' stroke-width='0.8'/>
<text x='482.52' y='514.4' text-anchor='middle' font-size='6.1'>50</text>
<line x1='511.51' y1='504.2' x2='511.51' y2='506.8' stroke='#383838' stroke-width='0.8'/>
<text x='511.51' y='514.4' text-anchor='middle' font-size='6.1'>75</text>
<line x1='540.5' y1='504.2' x2='540.5' y2='506.8' stroke='#383838' stroke-width='0.8'/>
<text x='540.5' y='514.4' text-anchor='middle' font-size='6.1'>100</text>
<line x1='306' y1='502.1' x2='308.6' y2='502.1' stroke='#383838' stroke-width='0.8'/>
<text x='303.3' y='504.3' text-anchor='end' font-size='6.1'>10<tspan dy='-2.6' font-size='4.3'>0</tspan></text>
<line x1='306' y1='483.45' x2='308.6' y2='483.45' stroke='#383838' stroke-width='0.8'/>
<text x='303.3' y='485.65' text-anchor='end' font-size='6.1'>10<tspan dy='-2.6' font-size='4.3'>1</tspan></text>
<line x1='306' y1='464.8' x2='308.6' y2='464.8' stroke='#383838' stroke-width='0.8'/>
<text x='303.3' y='467' text-anchor='end' font-size='6.1'>10<tspan dy='-2.6' font-size='4.3'>2</tspan></text>
<line x1='307.1' y1='503.91' x2='308.6' y2='503.91' stroke='#383838' stroke-width='0.6'/>
<line x1='307.1' y1='502.95' x2='308.6' y2='502.95' stroke='#383838' stroke-width='0.6'/>
<line x1='307.1' y1='496.49' x2='308.6' y2='496.49' stroke='#383838' stroke-width='0.6'/>
<line x1='307.1' y1='493.2' x2='308.6' y2='493.2' stroke='#383838' stroke-width='0.6'/>
<line x1='307.1' y1='490.87' x2='308.6' y2='490.87' stroke='#383838' stroke-width='0.6'/>
<line x1='307.1' y1='489.06' x2='308.6' y2='489.06' stroke='#383838' stroke-width='0.6'/>
<line x1='307.1' y1='487.59' x2='308.6' y2='487.59' stroke='#383838' stroke-width='0.6'/>
<line x1='307.1' y1='486.34' x2='308.6' y2='486.34' stroke='#383838' stroke-width='0.6'/>
<line x1='307.1' y1='485.26' x2='308.6' y2='485.26' stroke='#383838' stroke-width='0.6'/>
<line x1='307.1' y1='484.3' x2='308.6' y2='484.3' stroke='#383838' stroke-width='0.6'/>
<line x1='307.1' y1='477.84' x2='308.6' y2='477.84' stroke='#383838' stroke-width='0.6'/>
<line x1='307.1' y1='474.55' x2='308.6' y2='474.55' stroke='#383838' stroke-width='0.6'/>
<line x1='307.1' y1='472.22' x2='308.6' y2='472.22' stroke='#383838' stroke-width='0.6'/>
<line x1='307.1' y1='470.41' x2='308.6' y2='470.41' stroke='#383838' stroke-width='0.6'/>
<line x1='307.1' y1='468.94' x2='308.6' y2='468.94' stroke='#383838' stroke-width='0.6'/>
<line x1='307.1' y1='467.69' x2='308.6' y2='467.69' stroke='#383838' stroke-width='0.6'/>
<line x1='307.1' y1='466.61' x2='308.6' y2='466.61' stroke='#383838' stroke-width='0.6'/>
<line x1='307.1' y1='465.65' x2='308.6' y2='465.65' stroke='#383838' stroke-width='0.6'/>
<line x1='307.1' y1='459.19' x2='308.6' y2='459.19' stroke='#383838' stroke-width='0.6'/>
<line x1='307.1' y1='455.9' x2='308.6' y2='455.9' stroke='#383838' stroke-width='0.6'/>
<text x='424.55' y='450.3' text-anchor='middle' font-size='7.75'>zaid_ascad_desync_100</text>
<text transform='translate(288,479.45) rotate(-90)' text-anchor='middle' font-size='6.25'>Guessing Entropy</text>
<line x1='37.2' y1='534.4' x2='37.2' y2='583.5' stroke='#dcdcdc' stroke-width='0.8'/>
<line x1='66.12' y1='534.4' x2='66.12' y2='583.5' stroke='#dcdcdc' stroke-width='0.8'/>
<line x1='95.05' y1='534.4' x2='95.05' y2='583.5' stroke='#dcdcdc' stroke-width='0.8'/>
<line x1='123.98' y1='534.4' x2='123.98' y2='583.5' stroke='#dcdcdc' stroke-width='0.8'/>
<line x1='152.9' y1='534.4' x2='152.9' y2='583.5' stroke='#dcdcdc' stroke-width='0.8'/>
<line x1='181.83' y1='534.4' x2='181.83' y2='583.5' stroke='#dcdcdc' stroke-width='0.8'/>
<line x1='210.75' y1='534.4' x2='210.75' y2='583.5' stroke='#dcdcdc' stroke-width='0.8'/>
<line x1='239.68' y1='534.4' x2='239.68' y2='583.5' stroke='#dcdcdc' stroke-width='0.8'/>
<line x1='268.6' y1='534.4' x2='268.6' y2='583.5' stroke='#dcdcdc' stroke-width='0.8'/>
<line x1='37.2' y1='583.5' x2='268.6' y2='583.5' stroke='#dcdcdc' stroke-width='0.8'/>
<line x1='37.2' y1='558.95' x2='268.6' y2='558.95' stroke='#dcdcdc' stroke-width='0.8'/>
<line x1='37.2' y1='534.4' x2='268.6' y2='534.4' stroke='#dcdcdc' stroke-width='0.8'/>
<g clip-path='url(#c12)'>
<polygon points='37.2,529.49 86.95,529.49 89.27,529.49 91.58,529.49 136.47,534.4 138.55,549.74 141.79,567.54 146.65,577.12 152.55,580.31 158.22,578.59 161.46,562.02 165.51,534.4 268.6,529.49 268.6,529.49 165.51,534.4 161.46,563.86 158.22,579.45 152.55,581.04 146.65,578.34 141.79,570 138.55,552.81 136.47,534.4 91.58,534.4 89.27,535.63 86.95,534.4 37.2,529.49' fill='#1f77b4' fill-opacity='0.22' stroke='none'/>
<polyline points='37.2,529.49 86.95,534.4 89.27,535.63 91.58,534.4 136.47,534.4 138.55,551.54 141.79,568.77 146.65,577.79 152.55,580.68 158.22,579.08 161.46,563 165.51,534.4 268.6,529.49' fill='none' stroke='#1f77b4' stroke-width='1.25' stroke-linejoin='round'/>
</g>
<rect x='37.2' y='534.4' width='231.4' height='49.1' fill='none' stroke='#383838' stroke-width='1.0'/>
<line x1='37.2' y1='583.5' x2='37.2' y2='586.1' stroke='#383838' stroke-width='0.8'/>
<text x='37.2' y='593.7' text-anchor='middle' font-size='6.1'>−100</text>
<line x1='66.12' y1='583.5' x2='66.12' y2='586.1' stroke='#383838' stroke-width='0.8'/>
<text x='66.12' y='593.7' text-anchor='middle' font-size='6.1'>−75</text>
<line x1='95.05' y1='583.5' x2='95.05' y2='586.1' stroke='#383838' stroke-width='0.8'/>
<text x='95.05' y='593.7' text-anchor='middle' font-size='6.1'>−50</text>
<line x1='123.98' y1='583.5' x2='123.98' y2='586.1' stroke='#383838' stroke-width='0.8'/>
<text x='123.98' y='593.7' text-anchor='middle' font-size='6.1'>−25</text>
<line x1='152.9' y1='583.5' x2='152.9' y2='586.1' stroke='#383838' stroke-width='0.8'/>
<text x='152.9' y='593.7' text-anchor='middle' font-size='6.1'>0</text>
<line x1='181.83' y1='583.5' x2='181.83' y2='586.1' stroke='#383838' stroke-width='0.8'/>
<text x='181.83' y='593.7' text-anchor='middle' font-size='6.1'>25</text>
<line x1='210.75' y1='583.5' x2='210.75' y2='586.1' stroke='#383838' stroke-width='0.8'/>
<text x='210.75' y='593.7' text-anchor='middle' font-size='6.1'>50</text>
<line x1='239.68' y1='583.5' x2='239.68' y2='586.1' stroke='#383838' stroke-width='0.8'/>
<text x='239.68' y='593.7' text-anchor='middle' font-size='6.1'>75</text>
<line x1='268.6' y1='583.5' x2='268.6' y2='586.1' stroke='#383838' stroke-width='0.8'/>
<text x='268.6' y='593.7' text-anchor='middle' font-size='6.1'>100</text>
<line x1='34.6' y1='583.5' x2='37.2' y2='583.5' stroke='#383838' stroke-width='0.8'/>
<text x='31.6' y='585.7' text-anchor='end' font-size='6.1'>0</text>
<line x1='34.6' y1='558.95' x2='37.2' y2='558.95' stroke='#383838' stroke-width='0.8'/>
<text x='31.6' y='561.15' text-anchor='end' font-size='6.1'>2000</text>
<line x1='34.6' y1='534.4' x2='37.2' y2='534.4' stroke='#383838' stroke-width='0.8'/>
<text x='31.6' y='536.6' text-anchor='end' font-size='6.1'>4000</text>
<text x='152.9' y='530' text-anchor='middle' font-size='7.75'>noConv1_ascad_desync_100</text>
<text transform='translate(9.9,558.65) rotate(-90)' text-anchor='middle' font-size='6.9' font-style='italic'>N<tspan dy='1.1' font-size='4.1'>ge = 1</tspan></text>
<line x1='308.6' y1='534.4' x2='308.6' y2='583.5' stroke='#dcdcdc' stroke-width='0.8'/>
<line x1='337.59' y1='534.4' x2='337.59' y2='583.5' stroke='#dcdcdc' stroke-width='0.8'/>
<line x1='366.58' y1='534.4' x2='366.58' y2='583.5' stroke='#dcdcdc' stroke-width='0.8'/>
<line x1='395.56' y1='534.4' x2='395.56' y2='583.5' stroke='#dcdcdc' stroke-width='0.8'/>
<line x1='424.55' y1='534.4' x2='424.55' y2='583.5' stroke='#dcdcdc' stroke-width='0.8'/>
<line x1='453.54' y1='534.4' x2='453.54' y2='583.5' stroke='#dcdcdc' stroke-width='0.8'/>
<line x1='482.52' y1='534.4' x2='482.52' y2='583.5' stroke='#dcdcdc' stroke-width='0.8'/>
<line x1='511.51' y1='534.4' x2='511.51' y2='583.5' stroke='#dcdcdc' stroke-width='0.8'/>
<line x1='540.5' y1='534.4' x2='540.5' y2='583.5' stroke='#dcdcdc' stroke-width='0.8'/>
<line x1='308.6' y1='581.4' x2='540.5' y2='581.4' stroke='#dcdcdc' stroke-width='0.8'/>
<line x1='308.6' y1='562.75' x2='540.5' y2='562.75' stroke='#dcdcdc' stroke-width='0.8'/>
<line x1='308.6' y1='544.1' x2='540.5' y2='544.1' stroke='#dcdcdc' stroke-width='0.8'/>
<g clip-path='url(#c13)'>
<polygon points='308.6,541.3 314.4,542.24 320.2,542.24 325.99,542.24 331.79,541.3 337.59,540.37 343.38,540.37 349.18,542.24 354.98,536.64 360.78,544.1 366.58,545.97 372.37,545.97 378.17,547.83 383.97,553.42 389.76,547.83 395.56,551.56 401.36,553.42 407.16,559.02 412.96,581.4 418.75,581.4 424.55,581.4 430.35,581.4 436.15,568.35 441.94,555.29 447.74,545.03 453.54,548.76 459.34,545.97 465.13,542.24 470.93,545.03 476.73,540.37 482.52,538.5 488.32,540.37 494.12,537.57 499.92,536.64 505.72,539.44 511.51,536.64 517.31,538.5 523.11,539.44 528.9,538.5 534.7,538.5 540.5,537.01 540.5,541.3 534.7,544.1 528.9,544.1 523.11,545.03 517.31,544.1 511.51,542.24 505.72,545.03 499.92,542.24 494.12,543.17 488.32,546.9 482.52,544.1 476.73,549.69 470.93,553.42 465.13,547.83 459.34,553.42 453.54,559.02 447.74,555.29 441.94,572.07 436.15,579.53 430.35,581.4 424.55,581.4 418.75,581.4 412.96,581.4 407.16,572.07 401.36,568.35 395.56,566.48 389.76,564.62 383.97,572.07 378.17,566.48 372.37,562.75 366.58,566.48 360.78,572.07 354.98,544.1 349.18,559.02 343.38,551.56 337.59,553.42 331.79,553.42 325.99,557.15 320.2,557.15 314.4,557.15 308.6,547.83' fill='#1f77b4' fill-opacity='0.22' stroke='none'/>
<polygon points='308.6,543.54 314.4,543.35 320.2,543.17 325.99,543.54 331.79,543.73 337.59,543.54 343.38,543.35 349.18,543.35 354.98,543.73 360.78,543.54 366.58,543.35 372.37,543.35 378.17,543.54 383.97,543.73 389.76,543.54 395.56,543.35 401.36,543.35 407.16,543.17 412.96,543.54 418.75,543.54 424.55,543.35 430.35,543.35 436.15,543.35 441.94,543.54 447.74,543.35 453.54,543.35 459.34,543.54 465.13,543.35 470.93,543.17 476.73,543.35 482.52,542.98 488.32,543.17 494.12,543.35 499.92,543.17 505.72,543.54 511.51,543.35 517.31,543.54 523.11,543.35 528.9,543.35 534.7,543.54 540.5,543.54 540.5,544.29 534.7,544.29 528.9,544.1 523.11,544.1 517.31,544.29 511.51,544.1 505.72,544.29 499.92,543.91 494.12,544.1 488.32,543.91 482.52,543.73 476.73,544.1 470.93,543.91 465.13,544.1 459.34,544.29 453.54,544.1 447.74,544.1 441.94,544.29 436.15,544.1 430.35,544.1 424.55,544.1 418.75,544.29 412.96,544.29 407.16,543.91 401.36,544.1 395.56,544.1 389.76,544.29 383.97,544.47 378.17,544.29 372.37,544.1 366.58,544.1 360.78,544.29 354.98,544.47 349.18,544.1 343.38,544.1 337.59,544.29 331.79,544.47 325.99,544.29 320.2,543.91 314.4,544.1 308.6,544.29' fill='#ff7f0e' fill-opacity='0.22' stroke='none'/>
<polyline points='308.6,543.91 314.4,548.58 320.2,549.88 325.99,547.46 331.79,546.34 337.59,543.91 343.38,543.91 349.18,548.58 354.98,537.95 360.78,551 366.58,552.12 372.37,552.12 378.17,554.54 383.97,562.75 389.76,553.42 395.56,556.97 401.36,558.09 407.16,565.17 412.96,581.4 418.75,581.4 424.55,581.4 430.35,581.4 436.15,572.26 441.94,560.51 447.74,548.58 453.54,553.42 459.34,549.88 465.13,545.03 470.93,548.58 476.73,543.35 482.52,541.49 488.32,543.91 494.12,540.37 499.92,539.25 505.72,542.79 511.51,539.25 517.31,541.49 523.11,542.79 528.9,541.49 534.7,541.49 540.5,539.25' fill='none' stroke='#1f77b4' stroke-width='1.25' stroke-linejoin='round'/>
<polyline points='308.6,543.91 314.4,543.73 320.2,543.54 325.99,543.91 331.79,544.1 337.59,543.91 343.38,543.73 349.18,543.73 354.98,544.1 360.78,543.91 366.58,543.73 372.37,543.73 378.17,543.91 383.97,544.1 389.76,543.91 395.56,543.73 401.36,543.73 407.16,543.54 412.96,543.91 418.75,543.91 424.55,543.73 430.35,543.73 436.15,543.73 441.94,543.91 447.74,543.73 453.54,543.73 459.34,543.91 465.13,543.73 470.93,543.54 476.73,543.73 482.52,543.35 488.32,543.54 494.12,543.73 499.92,543.54 505.72,543.91 511.51,543.73 517.31,543.91 523.11,543.73 528.9,543.73 534.7,543.91 540.5,543.91' fill='none' stroke='#ff7f0e' stroke-width='1.25' stroke-linejoin='round'/>
</g>
<rect x='308.6' y='534.4' width='231.9' height='49.1' fill='none' stroke='#383838' stroke-width='1.0'/>
<line x1='308.6' y1='583.5' x2='308.6' y2='586.1' stroke='#383838' stroke-width='0.8'/>
<text x='308.6' y='593.7' text-anchor='middle' font-size='6.1'>−100</text>
<line x1='337.59' y1='583.5' x2='337.59' y2='586.1' stroke='#383838' stroke-width='0.8'/>
<text x='337.59' y='593.7' text-anchor='middle' font-size='6.1'>−75</text>
<line x1='366.58' y1='583.5' x2='366.58' y2='586.1' stroke='#383838' stroke-width='0.8'/>
<text x='366.58' y='593.7' text-anchor='middle' font-size='6.1'>−50</text>
<line x1='395.56' y1='583.5' x2='395.56' y2='586.1' stroke='#383838' stroke-width='0.8'/>
<text x='395.56' y='593.7' text-anchor='middle' font-size='6.1'>−25</text>
<line x1='424.55' y1='583.5' x2='424.55' y2='586.1' stroke='#383838' stroke-width='0.8'/>
<text x='424.55' y='593.7' text-anchor='middle' font-size='6.1'>0</text>
<line x1='453.54' y1='583.5' x2='453.54' y2='586.1' stroke='#383838' stroke-width='0.8'/>
<text x='453.54' y='593.7' text-anchor='middle' font-size='6.1'>25</text>
<line x1='482.52' y1='583.5' x2='482.52' y2='586.1' stroke='#383838' stroke-width='0.8'/>
<text x='482.52' y='593.7' text-anchor='middle' font-size='6.1'>50</text>
<line x1='511.51' y1='583.5' x2='511.51' y2='586.1' stroke='#383838' stroke-width='0.8'/>
<text x='511.51' y='593.7' text-anchor='middle' font-size='6.1'>75</text>
<line x1='540.5' y1='583.5' x2='540.5' y2='586.1' stroke='#383838' stroke-width='0.8'/>
<text x='540.5' y='593.7' text-anchor='middle' font-size='6.1'>100</text>
<line x1='306' y1='581.4' x2='308.6' y2='581.4' stroke='#383838' stroke-width='0.8'/>
<text x='303.3' y='583.6' text-anchor='end' font-size='6.1'>10<tspan dy='-2.6' font-size='4.3'>0</tspan></text>
<line x1='306' y1='562.75' x2='308.6' y2='562.75' stroke='#383838' stroke-width='0.8'/>
<text x='303.3' y='564.95' text-anchor='end' font-size='6.1'>10<tspan dy='-2.6' font-size='4.3'>1</tspan></text>
<line x1='306' y1='544.1' x2='308.6' y2='544.1' stroke='#383838' stroke-width='0.8'/>
<text x='303.3' y='546.3' text-anchor='end' font-size='6.1'>10<tspan dy='-2.6' font-size='4.3'>2</tspan></text>
<line x1='307.1' y1='583.21' x2='308.6' y2='583.21' stroke='#383838' stroke-width='0.6'/>
<line x1='307.1' y1='582.25' x2='308.6' y2='582.25' stroke='#383838' stroke-width='0.6'/>
<line x1='307.1' y1='575.79' x2='308.6' y2='575.79' stroke='#383838' stroke-width='0.6'/>
<line x1='307.1' y1='572.5' x2='308.6' y2='572.5' stroke='#383838' stroke-width='0.6'/>
<line x1='307.1' y1='570.17' x2='308.6' y2='570.17' stroke='#383838' stroke-width='0.6'/>
<line x1='307.1' y1='568.36' x2='308.6' y2='568.36' stroke='#383838' stroke-width='0.6'/>
<line x1='307.1' y1='566.89' x2='308.6' y2='566.89' stroke='#383838' stroke-width='0.6'/>
<line x1='307.1' y1='565.64' x2='308.6' y2='565.64' stroke='#383838' stroke-width='0.6'/>
<line x1='307.1' y1='564.56' x2='308.6' y2='564.56' stroke='#383838' stroke-width='0.6'/>
<line x1='307.1' y1='563.6' x2='308.6' y2='563.6' stroke='#383838' stroke-width='0.6'/>
<line x1='307.1' y1='557.14' x2='308.6' y2='557.14' stroke='#383838' stroke-width='0.6'/>
<line x1='307.1' y1='553.85' x2='308.6' y2='553.85' stroke='#383838' stroke-width='0.6'/>
<line x1='307.1' y1='551.52' x2='308.6' y2='551.52' stroke='#383838' stroke-width='0.6'/>
<line x1='307.1' y1='549.71' x2='308.6' y2='549.71' stroke='#383838' stroke-width='0.6'/>
<line x1='307.1' y1='548.24' x2='308.6' y2='548.24' stroke='#383838' stroke-width='0.6'/>
<line x1='307.1' y1='546.99' x2='308.6' y2='546.99' stroke='#383838' stroke-width='0.6'/>
<line x1='307.1' y1='545.91' x2='308.6' y2='545.91' stroke='#383838' stroke-width='0.6'/>
<line x1='307.1' y1='544.95' x2='308.6' y2='544.95' stroke='#383838' stroke-width='0.6'/>
<line x1='307.1' y1='538.49' x2='308.6' y2='538.49' stroke='#383838' stroke-width='0.6'/>
<line x1='307.1' y1='535.2' x2='308.6' y2='535.2' stroke='#383838' stroke-width='0.6'/>
<text x='424.55' y='530' text-anchor='middle' font-size='7.75'>noConv1_ascad_desync_100</text>
<text transform='translate(288,558.95) rotate(-90)' text-anchor='middle' font-size='6.25'>Guessing Entropy</text>
<text x='152.6' y='250.5' text-anchor='middle' font-size='6.3'>Maximum uniformly distributed shifts</text>
<text x='424.9' y='250.5' text-anchor='middle' font-size='6.3'>Maximum uniformly distributed shifts</text>
<text x='152.8' y='603.4' text-anchor='middle' font-size='6.3'>Maximum uniformly distributed shifts</text>
<text x='424.5' y='603.4' text-anchor='middle' font-size='6.3'>Maximum uniformly distributed shifts</text>
<text x='274.9' y='275.6' text-anchor='middle' font-size='12' font-family="'Liberation Serif',serif" fill='#000' style='stroke:none'>(<tspan font-weight='bold'>a</tspan>)</text>
<text x='274.7' y='629.0' text-anchor='middle' font-size='12' font-family="'Liberation Serif',serif" fill='#000' style='stroke:none'>(<tspan font-weight='bold'>b</tspan>)</text>
<rect x='38.1' y='26.9' width='81.00' height='34.40' rx='1.2' fill='#fff' fill-opacity='0.85' stroke='#d6d6d6' stroke-width='0.6'/>
<line x1='40.5' y1='31.3' x2='52.0' y2='31.3' stroke='#1f77b4' stroke-width='1.1'/>
<text x='56.0' y='33.25' font-size='5.55'>avg_pooling - ASCADr</text>
<line x1='40.5' y1='39.5' x2='52.0' y2='39.5' stroke='#ff7f0e' stroke-width='1.1'/>
<text x='56.0' y='41.45' font-size='5.55'>max_pooling - ASCADr</text>
<line x1='40.5' y1='47.6' x2='52.0' y2='47.6' stroke='#2ca02c' stroke-width='1.1'/>
<text x='56.0' y='49.55' font-size='5.55'>avg_pooling - ASCADf</text>
<line x1='40.5' y1='55.8' x2='52.0' y2='55.8' stroke='#d62728' stroke-width='1.1'/>
<text x='56.0' y='57.75' font-size='5.55'>max_pooling - ASCADf</text>
<rect x='224.8' y='297.3' width='41.30' height='18.10' rx='1.2' fill='#fff' fill-opacity='0.85' stroke='#d6d6d6' stroke-width='0.6'/>
<line x1='226.5' y1='302.1' x2='239.0' y2='302.1' stroke='#1f77b4' stroke-width='1.1'/>
<text x='242.4' y='304.05' font-size='5.55'>ASCADf</text>
<line x1='226.5' y1='310.3' x2='239.0' y2='310.3' stroke='#ff7f0e' stroke-width='1.1'/>
<text x='242.4' y='312.25' font-size='5.55'>ASCADr</text>
<rect x='263.70' y='97.20' width='4.4' height='4.2' rx='0.6' fill='#fff' fill-opacity='0.8' stroke='#d0d0d0' stroke-width='0.6'/>
<rect x='535.60' y='17.40' width='4.4' height='4.2' rx='0.6' fill='#fff' fill-opacity='0.8' stroke='#d0d0d0' stroke-width='0.6'/>
<rect x='311.30' y='136.60' width='4.4' height='4.2' rx='0.6' fill='#fff' fill-opacity='0.8' stroke='#d0d0d0' stroke-width='0.6'/>
<rect x='39.60' y='177.30' width='4.4' height='4.2' rx='0.6' fill='#fff' fill-opacity='0.8' stroke='#d0d0d0' stroke-width='0.6'/>
<rect x='311.30' y='216.40' width='4.4' height='4.2' rx='0.6' fill='#fff' fill-opacity='0.8' stroke='#d0d0d0' stroke-width='0.6'/>
<rect x='311.10' y='337.70' width='4.4' height='4.2' rx='0.6' fill='#fff' fill-opacity='0.8' stroke='#d0d0d0' stroke-width='0.6'/>
<rect x='262.10' y='377.90' width='4.4' height='4.2' rx='0.6' fill='#fff' fill-opacity='0.8' stroke='#d0d0d0' stroke-width='0.6'/>
<rect x='311.10' y='416.90' width='4.4' height='4.2' rx='0.6' fill='#fff' fill-opacity='0.8' stroke='#d0d0d0' stroke-width='0.6'/>
<rect x='262.10' y='457.60' width='4.4' height='4.2' rx='0.6' fill='#fff' fill-opacity='0.8' stroke='#d0d0d0' stroke-width='0.6'/>
<rect x='533.60' y='457.60' width='4.4' height='4.2' rx='0.6' fill='#fff' fill-opacity='0.8' stroke='#d0d0d0' stroke-width='0.6'/>
<rect x='262.10' y='537.40' width='4.4' height='4.2' rx='0.6' fill='#fff' fill-opacity='0.8' stroke='#d0d0d0' stroke-width='0.6'/>
<rect x='311.10' y='537.60' width='4.4' height='4.2' rx='0.6' fill='#fff' fill-opacity='0.8' stroke='#d0d0d0' stroke-width='0.6'/>
</svg></body></html>
